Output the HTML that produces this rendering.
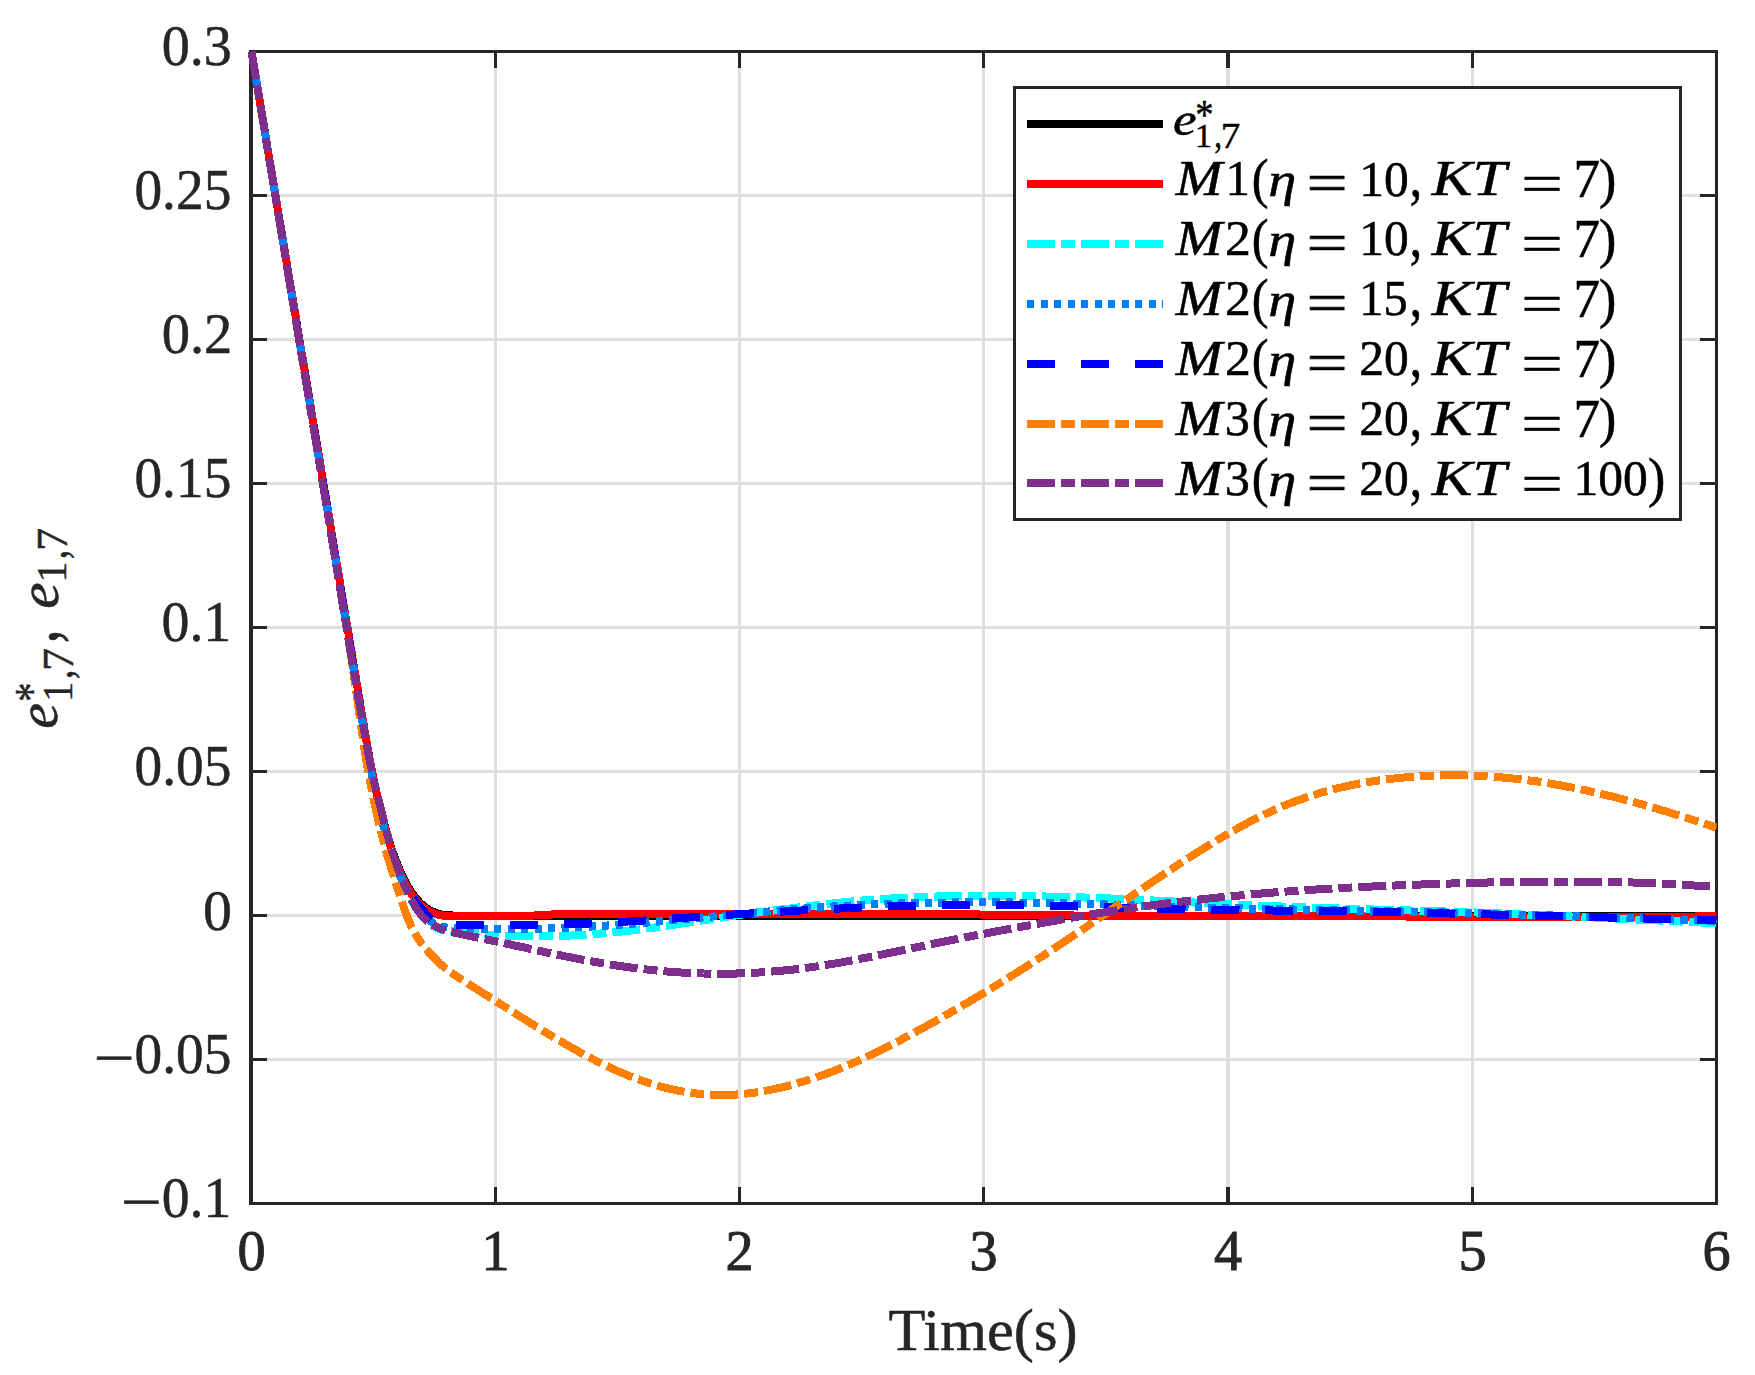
<!DOCTYPE html>
<html><head><meta charset="utf-8"><title>plot</title>
<style>
html,body{margin:0;padding:0;background:#fff;}
svg{display:block;}
text{font-family:"Liberation Serif",serif;fill:#262626;stroke:#262626;stroke-width:0.9;}
.it{font-style:italic;}
.lg text{fill:#000;stroke:#000;stroke-width:1.1;}
</style></head><body>
<svg width="1755" height="1375" viewBox="0 0 1755 1375">
<rect x="0" y="0" width="1755" height="1375" fill="#fff"/>
<path d="M494.0,51.5 h3 V1203.5 h-3 Z M738.0,51.5 h3 V1203.5 h-3 Z M982.0,51.5 h3 V1203.5 h-3 Z M1226.0,51.5 h4 V1203.5 h-4 Z M1471.0,51.5 h3 V1203.5 h-3 Z M251.5,194.0 H1716.5 v3 H251.5 Z M251.5,338.0 H1716.5 v3 H251.5 Z M251.5,482.0 H1716.5 v3 H251.5 Z M251.5,626.0 H1716.5 v3 H251.5 Z M251.5,770.0 H1716.5 v3 H251.5 Z M251.5,914.0 H1716.5 v3 H251.5 Z M251.5,1058.0 H1716.5 v3 H251.5 Z" fill="#dfdfdf"/>
<path d="M494.0,1203.5 h3 v-16.5 h-3 Z M494.0,51.5 h3 v16.5 h-3 Z M738.0,1203.5 h3 v-16.5 h-3 Z M738.0,51.5 h3 v16.5 h-3 Z M982.0,1203.5 h3 v-16.5 h-3 Z M982.0,51.5 h3 v16.5 h-3 Z M1226.0,1203.5 h4 v-16.5 h-4 Z M1226.0,51.5 h4 v16.5 h-4 Z M1471.0,1203.5 h3 v-16.5 h-3 Z M1471.0,51.5 h3 v16.5 h-3 Z M251.5,194.0 h15.5 v3 h-15.5 Z M1716.5,194.0 h-16.5 v3 h16.5 Z M251.5,338.0 h15.5 v3 h-15.5 Z M1716.5,338.0 h-16.5 v3 h16.5 Z M251.5,482.0 h15.5 v3 h-15.5 Z M1716.5,482.0 h-16.5 v3 h16.5 Z M251.5,626.0 h15.5 v3 h-15.5 Z M1716.5,626.0 h-16.5 v3 h16.5 Z M251.5,770.0 h15.5 v3 h-15.5 Z M1716.5,770.0 h-16.5 v3 h16.5 Z M251.5,914.0 h15.5 v3 h-15.5 Z M1716.5,914.0 h-16.5 v3 h16.5 Z M251.5,1058.0 h15.5 v3 h-15.5 Z M1716.5,1058.0 h-16.5 v3 h16.5 Z" fill="#262626"/>
<path d="M249,50.0 h4 V1205.0 h-4 Z M249,50.0 H1718.0 v3 H249 Z M249,1202.0 H1718.0 v3 H249 Z M1715.0,50.0 h3 V1205.0 h-3 Z" fill="#262626"/>
<clipPath id="c"><rect x="247.5" y="50.0" width="1469.0" height="1155.0"/></clipPath>
<g clip-path="url(#c)" fill="none" stroke-width="8" stroke-linejoin="round" shape-rendering="crispEdges">
<path d="M251.5,51.5 L254.9,71.7 L258.2,91.9 L261.6,112.2 L265.0,132.4 L268.3,152.6 L271.7,172.8 L275.1,193.0 L278.4,213.3 L281.8,233.5 L285.2,253.7 L288.5,273.9 L291.9,294.1 L295.3,314.4 L298.6,334.6 L302.0,354.8 L305.4,375.0 L308.8,395.2 L312.1,415.5 L315.5,435.7 L318.9,455.9 L322.2,476.1 L325.6,496.3 L329.0,516.6 L332.3,536.8 L335.7,557.0 L339.1,577.2 L342.4,597.4 L345.8,617.6 L349.2,637.9 L349.9,642.3 L350.6,646.7 L351.4,651.1 L352.1,655.5 L352.8,660.0 L353.6,664.4 L354.3,668.8 L355.1,673.2 L355.8,677.6 L356.5,682.1 L357.3,686.5 L358.0,690.9 L358.7,695.3 L359.5,699.7 L360.2,704.2 L360.9,708.6 L361.7,713.0 L362.4,717.4 L363.2,721.8 L363.9,726.3 L364.6,730.6 L365.4,735.0 L366.1,739.2 L366.8,743.4 L367.6,747.5 L368.3,751.5 L369.0,755.5 L369.8,759.4 L370.5,763.3 L371.3,767.1 L372.0,770.8 L372.7,774.4 L373.5,778.0 L374.2,781.6 L374.9,785.0 L375.7,788.5 L376.4,791.8 L377.1,795.1 L377.9,798.3 L378.6,801.5 L379.4,804.6 L380.1,807.7 L380.8,810.7 L381.6,813.6 L382.3,816.5 L383.0,819.4 L383.8,822.2 L384.5,824.9 L385.2,827.6 L386.0,830.2 L386.7,832.7 L387.4,835.3 L388.2,837.7 L388.9,840.1 L389.7,842.5 L390.4,844.8 L391.1,847.1 L391.9,849.3 L392.6,851.5 L393.3,853.6 L394.1,855.7 L394.8,857.7 L395.5,859.7 L396.3,861.6 L397.0,863.5 L397.8,865.3 L398.5,867.1 L399.2,868.9 L400.0,870.6 L400.7,872.3 L401.4,873.9 L402.2,875.5 L402.9,877.0 L403.6,878.5 L404.4,880.0 L405.1,881.4 L405.9,882.8 L406.6,884.2 L407.3,885.5 L408.1,886.7 L408.8,888.0 L409.5,889.2 L410.3,890.4 L411.0,891.5 L411.7,892.6 L412.5,893.6 L413.2,894.7 L414.0,895.7 L414.7,896.6 L415.4,897.6 L416.2,898.5 L416.9,899.3 L417.6,900.2 L418.4,901.0 L419.1,901.8 L419.8,902.5 L420.6,903.3 L421.3,904.0 L422.0,904.6 L422.8,905.3 L423.5,905.9 L424.3,906.5 L425.0,907.0 L425.7,907.6 L426.5,908.1 L427.2,908.6 L427.9,909.1 L428.7,909.5 L429.4,910.0 L430.1,910.4 L430.9,910.8 L431.6,911.1 L432.4,911.5 L433.1,911.8 L433.8,912.1 L434.6,912.4 L435.3,912.7 L436.0,912.9 L436.8,913.2 L437.5,913.4 L438.2,913.6 L439.0,913.8 L439.7,914.0 L440.5,914.2 L441.2,914.3 L441.9,914.5 L442.7,914.6 L443.4,914.7 L444.1,914.8 L444.9,914.9 L445.6,915.0 L446.3,915.1 L447.1,915.2 L447.8,915.2 L448.6,915.3 L449.3,915.3 L450.0,915.4 L450.8,915.4 L451.5,915.4 L452.2,915.4 L453.0,915.5 L453.7,915.5 L454.4,915.5 L455.2,915.5 L455.9,915.5 L456.6,915.5 L457.4,915.5 L458.1,915.5 L458.9,915.5 L459.6,915.5 L460.3,915.5 L461.1,915.5 L461.8,915.5 L462.5,915.5 L463.3,915.5 L464.0,915.5 L464.7,915.5 L465.5,915.5 L466.2,915.5 L467.0,915.5 L467.7,915.5 L468.4,915.5 L469.2,915.5 L469.9,915.5 L470.6,915.5 L471.4,915.5 L472.1,915.5 L472.8,915.5 L473.6,915.5 L474.3,915.5 L475.1,915.5 L475.8,915.5 L476.5,915.5 L477.3,915.5 L478.0,915.5 L478.7,915.5 L479.5,915.5 L480.2,915.5 L480.9,915.5 L481.7,915.5 L482.4,915.5 L483.2,915.5 L483.9,915.5 L484.6,915.5 L485.4,915.5 L486.1,915.5 L486.8,915.5 L487.6,915.5 L488.3,915.5 L489.0,915.5 L489.8,915.5 L490.5,915.5 L491.2,915.5 L492.0,915.5 L492.7,915.5 L493.5,915.5 L494.2,915.5 L494.9,915.5 L495.7,915.5 L497.4,915.5 L499.2,915.5 L500.9,915.5 L502.7,915.5 L504.4,915.5 L506.1,915.5 L507.9,915.5 L509.6,915.5 L511.4,915.5 L513.1,915.5 L514.9,915.5 L516.6,915.5 L518.4,915.5 L520.1,915.5 L521.9,915.5 L523.6,915.5 L525.4,915.5 L527.1,915.5 L528.9,915.5 L530.6,915.5 L532.3,915.5 L534.1,915.5 L535.8,915.5 L537.6,915.5 L539.3,915.5 L541.1,915.5 L542.8,915.5 L544.6,915.5 L546.3,915.5 L548.1,915.5 L549.8,915.5 L551.6,915.5 L553.3,915.5 L555.0,915.5 L556.8,915.5 L558.5,915.5 L560.3,915.5 L562.0,915.5 L563.8,915.5 L565.5,915.5 L567.3,915.5 L569.0,915.5 L570.8,915.5 L572.5,915.5 L574.3,915.5 L576.0,915.5 L577.8,915.5 L579.5,915.5 L581.2,915.5 L583.0,915.5 L584.7,915.5 L586.5,915.5 L588.2,915.5 L590.0,915.5 L591.7,915.5 L593.5,915.5 L595.2,915.5 L597.0,915.5 L598.7,915.5 L600.5,915.5 L602.2,915.5 L604.0,915.5 L605.7,915.5 L607.4,915.5 L609.2,915.5 L610.9,915.5 L612.7,915.5 L614.4,915.5 L616.2,915.5 L617.9,915.5 L619.7,915.5 L621.4,915.5 L623.2,915.5 L624.9,915.5 L626.7,915.5 L628.4,915.5 L630.2,915.5 L631.9,915.5 L633.6,915.5 L635.4,915.5 L637.1,915.5 L638.9,915.5 L640.6,915.5 L642.4,915.5 L644.1,915.5 L645.9,915.5 L647.6,915.5 L649.4,915.5 L651.1,915.5 L652.9,915.5 L654.6,915.5 L656.3,915.5 L658.1,915.5 L659.8,915.5 L661.6,915.5 L663.3,915.5 L665.1,915.5 L666.8,915.5 L668.6,915.5 L670.3,915.5 L672.1,915.5 L673.8,915.5 L675.6,915.5 L677.3,915.5 L679.1,915.5 L680.8,915.5 L682.5,915.5 L684.3,915.5 L686.0,915.5 L687.8,915.5 L689.5,915.5 L691.3,915.5 L693.0,915.5 L694.8,915.5 L696.5,915.5 L698.3,915.5 L700.0,915.5 L701.8,915.5 L703.5,915.5 L705.3,915.5 L707.0,915.5 L708.7,915.5 L710.5,915.5 L712.2,915.5 L714.0,915.5 L715.7,915.5 L717.5,915.5 L719.2,915.5 L721.0,915.5 L722.7,915.5 L724.5,915.5 L726.2,915.5 L728.0,915.5 L729.7,915.5 L731.4,915.5 L733.2,915.5 L734.9,915.5 L736.7,915.5 L738.4,915.5 L740.2,915.5 L741.9,915.5 L743.7,915.5 L745.4,915.5 L747.2,915.5 L748.9,915.5 L750.7,915.5 L752.4,915.5 L754.2,915.5 L755.9,915.5 L757.6,915.5 L759.4,915.5 L761.1,915.5 L762.9,915.5 L764.6,915.5 L766.4,915.5 L768.1,915.5 L769.9,915.5 L771.6,915.5 L773.4,915.5 L775.1,915.5 L776.9,915.5 L778.6,915.5 L780.4,915.5 L782.1,915.5 L783.8,915.5 L785.6,915.5 L787.3,915.5 L789.1,915.5 L790.8,915.5 L792.6,915.5 L794.3,915.5 L796.1,915.5 L797.8,915.5 L799.6,915.5 L801.3,915.5 L803.1,915.5 L804.8,915.5 L806.6,915.5 L808.3,915.5 L810.0,915.5 L811.8,915.5 L813.5,915.5 L815.3,915.5 L817.0,915.5 L818.8,915.5 L820.5,915.5 L822.3,915.5 L824.0,915.5 L825.8,915.5 L827.5,915.5 L829.3,915.5 L831.0,915.5 L832.7,915.5 L834.5,915.5 L836.2,915.5 L838.0,915.5 L839.7,915.5 L841.5,915.5 L843.2,915.5 L845.0,915.5 L846.7,915.5 L848.5,915.5 L850.2,915.5 L852.0,915.5 L853.7,915.5 L855.5,915.5 L857.2,915.5 L858.9,915.5 L860.7,915.5 L862.4,915.5 L864.2,915.5 L865.9,915.5 L867.7,915.5 L869.4,915.5 L871.2,915.5 L872.9,915.5 L874.7,915.5 L876.4,915.5 L878.2,915.5 L879.9,915.5 L881.7,915.5 L883.4,915.5 L885.1,915.5 L886.9,915.5 L888.6,915.5 L890.4,915.5 L892.1,915.5 L893.9,915.5 L895.6,915.5 L897.4,915.5 L899.1,915.5 L900.9,915.5 L902.6,915.5 L904.4,915.5 L906.1,915.5 L907.9,915.5 L909.6,915.5 L911.3,915.5 L913.1,915.5 L914.8,915.5 L916.6,915.5 L918.3,915.5 L920.1,915.5 L921.8,915.5 L923.6,915.5 L925.3,915.5 L927.1,915.5 L928.8,915.5 L930.6,915.5 L932.3,915.5 L934.0,915.5 L935.8,915.5 L937.5,915.5 L939.3,915.5 L941.0,915.5 L942.8,915.5 L944.5,915.5 L946.3,915.5 L948.0,915.5 L949.8,915.5 L951.5,915.5 L953.3,915.5 L955.0,915.5 L956.8,915.5 L958.5,915.5 L960.2,915.5 L962.0,915.5 L963.7,915.5 L965.5,915.5 L967.2,915.5 L969.0,915.5 L970.7,915.5 L972.5,915.5 L974.2,915.5 L976.0,915.5 L977.7,915.5 L979.5,915.5 L981.2,915.5 L983.0,915.5 L984.7,915.5 L986.4,915.5 L988.2,915.5 L989.9,915.5 L991.7,915.5 L993.4,915.5 L995.2,915.5 L996.9,915.5 L998.7,915.5 L1000.4,915.5 L1002.2,915.5 L1003.9,915.5 L1005.7,915.5 L1007.4,915.5 L1009.2,915.5 L1010.9,915.5 L1012.6,915.5 L1014.4,915.5 L1016.1,915.5 L1017.9,915.5 L1019.6,915.5 L1021.4,915.5 L1023.1,915.5 L1024.9,915.5 L1026.6,915.5 L1028.4,915.5 L1030.1,915.5 L1031.9,915.5 L1033.6,915.5 L1035.3,915.5 L1037.1,915.5 L1038.8,915.5 L1040.6,915.5 L1042.3,915.5 L1044.1,915.5 L1045.8,915.5 L1047.6,915.5 L1049.3,915.5 L1051.1,915.5 L1052.8,915.5 L1054.6,915.5 L1056.3,915.5 L1058.1,915.5 L1059.8,915.5 L1061.5,915.5 L1063.3,915.5 L1065.0,915.5 L1066.8,915.5 L1068.5,915.5 L1070.3,915.5 L1072.0,915.5 L1073.8,915.5 L1075.5,915.5 L1077.3,915.5 L1079.0,915.5 L1080.8,915.5 L1082.5,915.5 L1084.3,915.5 L1086.0,915.5 L1087.7,915.5 L1089.5,915.5 L1091.2,915.5 L1093.0,915.5 L1094.7,915.5 L1096.5,915.5 L1098.2,915.5 L1100.0,915.5 L1101.7,915.5 L1103.5,915.5 L1105.2,915.5 L1107.0,915.5 L1108.7,915.5 L1110.4,915.5 L1112.2,915.5 L1113.9,915.5 L1115.7,915.5 L1117.4,915.5 L1119.2,915.5 L1120.9,915.5 L1122.7,915.5 L1124.4,915.5 L1126.2,915.5 L1127.9,915.5 L1129.7,915.5 L1131.4,915.5 L1133.2,915.5 L1134.9,915.5 L1136.6,915.5 L1138.4,915.5 L1140.1,915.5 L1141.9,915.5 L1143.6,915.5 L1145.4,915.5 L1147.1,915.5 L1148.9,915.5 L1150.6,915.5 L1152.4,915.5 L1154.1,915.5 L1155.9,915.5 L1157.6,915.5 L1159.4,915.5 L1161.1,915.5 L1162.8,915.5 L1164.6,915.5 L1166.3,915.5 L1168.1,915.5 L1169.8,915.5 L1171.6,915.5 L1173.3,915.5 L1175.1,915.5 L1176.8,915.5 L1178.6,915.5 L1180.3,915.5 L1182.1,915.5 L1183.8,915.5 L1185.6,915.5 L1187.3,915.5 L1189.0,915.5 L1190.8,915.5 L1192.5,915.5 L1194.3,915.5 L1196.0,915.5 L1197.8,915.5 L1199.5,915.5 L1201.3,915.5 L1203.0,915.5 L1204.8,915.5 L1206.5,915.5 L1208.3,915.5 L1210.0,915.5 L1211.7,915.5 L1213.5,915.5 L1215.2,915.5 L1217.0,915.5 L1218.7,915.5 L1220.5,915.5 L1222.2,915.5 L1224.0,915.5 L1225.7,915.5 L1227.5,915.5 L1229.2,915.5 L1231.0,915.5 L1232.7,915.5 L1234.5,915.5 L1236.2,915.5 L1237.9,915.5 L1239.7,915.5 L1241.4,915.5 L1243.2,915.5 L1244.9,915.5 L1246.7,915.5 L1248.4,915.5 L1250.2,915.5 L1251.9,915.5 L1253.7,915.5 L1255.4,915.5 L1257.2,915.5 L1258.9,915.5 L1260.7,915.5 L1262.4,915.5 L1264.1,915.5 L1265.9,915.5 L1267.6,915.5 L1269.4,915.5 L1271.1,915.5 L1272.9,915.5 L1274.6,915.5 L1276.4,915.5 L1278.1,915.5 L1279.9,915.5 L1281.6,915.5 L1283.4,915.5 L1285.1,915.5 L1286.9,915.5 L1288.6,915.5 L1290.3,915.5 L1292.1,915.5 L1293.8,915.5 L1295.6,915.5 L1297.3,915.5 L1299.1,915.5 L1300.8,915.5 L1302.6,915.5 L1304.3,915.5 L1306.1,915.5 L1307.8,915.5 L1309.6,915.5 L1311.3,915.5 L1313.0,915.5 L1314.8,915.5 L1316.5,915.5 L1318.3,915.5 L1320.0,915.5 L1321.8,915.5 L1323.5,915.5 L1325.3,915.5 L1327.0,915.5 L1328.8,915.5 L1330.5,915.5 L1332.3,915.5 L1334.0,915.5 L1335.8,915.5 L1337.5,915.5 L1339.2,915.5 L1341.0,915.5 L1342.7,915.5 L1344.5,915.5 L1346.2,915.5 L1348.0,915.5 L1349.7,915.5 L1351.5,915.5 L1353.2,915.5 L1355.0,915.5 L1356.7,915.5 L1358.5,915.5 L1360.2,915.5 L1362.0,915.5 L1363.7,915.5 L1365.4,915.5 L1367.2,915.5 L1368.9,915.5 L1370.7,915.5 L1372.4,915.5 L1374.2,915.5 L1375.9,915.5 L1377.7,915.5 L1379.4,915.5 L1381.2,915.5 L1382.9,915.5 L1384.7,915.5 L1386.4,915.5 L1388.1,915.5 L1389.9,915.5 L1391.6,915.5 L1393.4,915.5 L1395.1,915.5 L1396.9,915.5 L1398.6,915.5 L1400.4,915.5 L1402.1,915.5 L1403.9,915.5 L1405.6,915.5 L1407.4,915.5 L1409.1,915.5 L1410.9,915.5 L1412.6,915.5 L1414.3,915.5 L1416.1,915.5 L1417.8,915.5 L1419.6,915.5 L1421.3,915.5 L1423.1,915.5 L1424.8,915.5 L1426.6,915.5 L1428.3,915.5 L1430.1,915.5 L1431.8,915.5 L1433.6,915.5 L1435.3,915.5 L1437.1,915.5 L1438.8,915.5 L1440.5,915.5 L1442.3,915.5 L1444.0,915.5 L1445.8,915.5 L1447.5,915.5 L1449.3,915.5 L1451.0,915.5 L1452.8,915.5 L1454.5,915.5 L1456.3,915.5 L1458.0,915.5 L1459.8,915.5 L1461.5,915.5 L1463.3,915.5 L1465.0,915.5 L1466.7,915.5 L1468.5,915.5 L1470.2,915.5 L1472.0,915.5 L1473.7,915.5 L1475.5,915.5 L1477.2,915.5 L1479.0,915.5 L1480.7,915.5 L1482.5,915.5 L1484.2,915.5 L1486.0,915.5 L1487.7,915.5 L1489.4,915.5 L1491.2,915.5 L1492.9,915.5 L1494.7,915.5 L1496.4,915.5 L1498.2,915.5 L1499.9,915.5 L1501.7,915.5 L1503.4,915.5 L1505.2,915.5 L1506.9,915.5 L1508.7,915.5 L1510.4,915.5 L1512.2,915.5 L1513.9,915.5 L1515.6,915.5 L1517.4,915.5 L1519.1,915.5 L1520.9,915.5 L1522.6,915.5 L1524.4,915.5 L1526.1,915.5 L1527.9,915.5 L1529.6,915.5 L1531.4,915.5 L1533.1,915.5 L1534.9,915.5 L1536.6,915.5 L1538.4,915.5 L1540.1,915.5 L1541.8,915.5 L1543.6,915.5 L1545.3,915.5 L1547.1,915.5 L1548.8,915.5 L1550.6,915.5 L1552.3,915.5 L1554.1,915.5 L1555.8,915.5 L1557.6,915.5 L1559.3,915.5 L1561.1,915.5 L1562.8,915.5 L1564.6,915.5 L1566.3,915.5 L1568.0,915.5 L1569.8,915.5 L1571.5,915.5 L1573.3,915.5 L1575.0,915.5 L1576.8,915.5 L1578.5,915.5 L1580.3,915.5 L1582.0,915.5 L1583.8,915.5 L1585.5,915.5 L1587.3,915.5 L1589.0,915.5 L1590.7,915.5 L1592.5,915.5 L1594.2,915.5 L1596.0,915.5 L1597.7,915.5 L1599.5,915.5 L1601.2,915.5 L1603.0,915.5 L1604.7,915.5 L1606.5,915.5 L1608.2,915.5 L1610.0,915.5 L1611.7,915.5 L1613.5,915.5 L1615.2,915.5 L1616.9,915.5 L1618.7,915.5 L1620.4,915.5 L1622.2,915.5 L1623.9,915.5 L1625.7,915.5 L1627.4,915.5 L1629.2,915.5 L1630.9,915.5 L1632.7,915.5 L1634.4,915.5 L1636.2,915.5 L1637.9,915.5 L1639.7,915.5 L1641.4,915.5 L1643.1,915.5 L1644.9,915.5 L1646.6,915.5 L1648.4,915.5 L1650.1,915.5 L1651.9,915.5 L1653.6,915.5 L1655.4,915.5 L1657.1,915.5 L1658.9,915.5 L1660.6,915.5 L1662.4,915.5 L1664.1,915.5 L1665.9,915.5 L1667.6,915.5 L1669.3,915.5 L1671.1,915.5 L1672.8,915.5 L1674.6,915.5 L1676.3,915.5 L1678.1,915.5 L1679.8,915.5 L1681.6,915.5 L1683.3,915.5 L1685.1,915.5 L1686.8,915.5 L1688.6,915.5 L1690.3,915.5 L1692.0,915.5 L1693.8,915.5 L1695.5,915.5 L1697.3,915.5 L1699.0,915.5 L1700.8,915.5 L1702.5,915.5 L1704.3,915.5 L1706.0,915.5 L1707.8,915.5 L1709.5,915.5 L1711.3,915.5 L1713.0,915.5 L1714.8,915.5 L1716.5,915.5" stroke="#000000"/>
<path d="M251.5,51.5 L254.9,71.7 L258.2,91.9 L261.6,112.2 L265.0,132.4 L268.3,152.6 L271.7,172.8 L275.1,193.0 L278.4,213.3 L281.8,233.5 L285.2,253.7 L288.5,273.9 L291.9,294.1 L295.3,314.4 L298.6,334.6 L302.0,354.8 L305.4,375.0 L308.8,395.2 L312.1,415.5 L315.5,435.7 L318.9,455.9 L322.2,476.1 L325.6,496.3 L329.0,516.6 L332.3,536.8 L335.7,557.0 L339.1,577.2 L342.4,597.4 L345.8,617.6 L349.2,637.9 L349.9,642.3 L350.6,646.7 L351.4,651.1 L352.1,655.5 L352.8,660.0 L353.6,664.4 L354.3,668.8 L355.1,673.2 L355.8,677.6 L356.5,682.1 L357.3,686.5 L358.0,690.9 L358.7,695.3 L359.5,699.7 L360.2,704.2 L360.9,708.6 L361.7,713.0 L362.4,717.4 L363.2,721.9 L363.9,726.3 L364.6,730.7 L365.4,735.0 L366.1,739.3 L366.8,743.5 L367.6,747.6 L368.3,751.7 L369.0,755.7 L369.8,759.6 L370.5,763.5 L371.3,767.3 L372.0,771.1 L372.7,774.8 L373.5,778.4 L374.2,782.0 L374.9,785.5 L375.7,788.9 L376.4,792.3 L377.1,795.7 L377.9,798.9 L378.6,802.2 L379.4,805.3 L380.1,808.4 L380.8,811.5 L381.6,814.5 L382.3,817.4 L383.0,820.3 L383.8,823.1 L384.5,825.9 L385.2,828.6 L386.0,831.3 L386.7,833.9 L387.4,836.5 L388.2,839.0 L388.9,841.4 L389.7,843.8 L390.4,846.2 L391.1,848.5 L391.9,850.7 L392.6,852.9 L393.3,855.1 L394.1,857.2 L394.8,859.2 L395.5,861.2 L396.3,863.2 L397.0,865.1 L397.8,867.0 L398.5,868.8 L399.2,870.6 L400.0,872.3 L400.7,874.0 L401.4,875.6 L402.2,877.2 L402.9,878.8 L403.6,880.3 L404.4,881.7 L405.1,883.1 L405.9,884.5 L406.6,885.9 L407.3,887.2 L408.1,888.5 L408.8,889.7 L409.5,890.9 L410.3,892.0 L411.0,893.2 L411.7,894.2 L412.5,895.3 L413.2,896.3 L414.0,897.3 L414.7,898.3 L415.4,899.2 L416.2,900.1 L416.9,900.9 L417.6,901.7 L418.4,902.5 L419.1,903.3 L419.8,904.0 L420.6,904.8 L421.3,905.4 L422.0,906.1 L422.8,906.7 L423.5,907.3 L424.3,907.9 L425.0,908.4 L425.7,909.0 L426.5,909.5 L427.2,909.9 L427.9,910.4 L428.7,910.8 L429.4,911.2 L430.1,911.6 L430.9,912.0 L431.6,912.4 L432.4,912.7 L433.1,913.0 L433.8,913.3 L434.6,913.6 L435.3,913.8 L436.0,914.1 L436.8,914.3 L437.5,914.5 L438.2,914.7 L439.0,914.9 L439.7,915.0 L440.5,915.2 L441.2,915.3 L441.9,915.4 L442.7,915.5 L443.4,915.7 L444.1,915.7 L444.9,915.8 L445.6,915.9 L446.3,916.0 L447.1,916.0 L447.8,916.1 L448.6,916.1 L449.3,916.1 L450.0,916.2 L450.8,916.2 L451.5,916.2 L452.2,916.2 L453.0,916.2 L453.7,916.2 L454.4,916.2 L455.2,916.2 L455.9,916.2 L456.6,916.2 L457.4,916.1 L458.1,916.1 L458.9,916.1 L459.6,916.1 L460.3,916.1 L461.1,916.1 L461.8,916.0 L462.5,916.0 L463.3,916.0 L464.0,916.0 L464.7,916.0 L465.5,915.9 L466.2,915.9 L467.0,915.9 L467.7,915.9 L468.4,915.9 L469.2,915.9 L469.9,915.8 L470.6,915.8 L471.4,915.8 L472.1,915.8 L472.8,915.8 L473.6,915.8 L474.3,915.8 L475.1,915.7 L475.8,915.7 L476.5,915.7 L477.3,915.7 L478.0,915.7 L478.7,915.7 L479.5,915.7 L480.2,915.6 L480.9,915.6 L481.7,915.6 L482.4,915.6 L483.2,915.6 L483.9,915.6 L484.6,915.6 L485.4,915.6 L486.1,915.6 L486.8,915.6 L487.6,915.5 L488.3,915.5 L489.0,915.5 L489.8,915.5 L490.5,915.5 L491.2,915.5 L492.0,915.5 L492.7,915.5 L493.5,915.5 L494.2,915.5 L494.9,915.5 L495.7,915.5 L497.4,915.5 L499.2,915.5 L500.9,915.5 L502.7,915.5 L504.4,915.5 L506.1,915.5 L507.9,915.5 L509.6,915.5 L511.4,915.5 L513.1,915.5 L514.9,915.5 L516.6,915.5 L518.4,915.5 L520.1,915.5 L521.9,915.5 L523.6,915.5 L525.4,915.5 L527.1,915.5 L528.9,915.5 L530.6,915.5 L532.3,915.5 L534.1,915.5 L535.8,915.4 L537.6,915.4 L539.3,915.3 L541.1,915.2 L542.8,915.1 L544.6,914.9 L546.3,914.8 L548.1,914.7 L549.8,914.6 L551.6,914.5 L553.3,914.4 L555.0,914.4 L556.8,914.3 L558.5,914.3 L560.3,914.3 L562.0,914.3 L563.8,914.3 L565.5,914.3 L567.3,914.3 L569.0,914.3 L570.8,914.3 L572.5,914.3 L574.3,914.3 L576.0,914.3 L577.8,914.3 L579.5,914.3 L581.2,914.3 L583.0,914.3 L584.7,914.2 L586.5,914.2 L588.2,914.2 L590.0,914.2 L591.7,914.2 L593.5,914.2 L595.2,914.2 L597.0,914.2 L598.7,914.2 L600.5,914.2 L602.2,914.2 L604.0,914.2 L605.7,914.2 L607.4,914.2 L609.2,914.2 L610.9,914.2 L612.7,914.2 L614.4,914.2 L616.2,914.2 L617.9,914.2 L619.7,914.2 L621.4,914.2 L623.2,914.2 L624.9,914.2 L626.7,914.1 L628.4,914.1 L630.2,914.1 L631.9,914.1 L633.6,914.1 L635.4,914.1 L637.1,914.1 L638.9,914.1 L640.6,914.1 L642.4,914.1 L644.1,914.1 L645.9,914.1 L647.6,914.1 L649.4,914.1 L651.1,914.1 L652.9,914.1 L654.6,914.1 L656.3,914.1 L658.1,914.1 L659.8,914.1 L661.6,914.1 L663.3,914.1 L665.1,914.1 L666.8,914.1 L668.6,914.1 L670.3,914.1 L672.1,914.1 L673.8,914.1 L675.6,914.1 L677.3,914.1 L679.1,914.1 L680.8,914.1 L682.5,914.1 L684.3,914.1 L686.0,914.1 L687.8,914.1 L689.5,914.1 L691.3,914.1 L693.0,914.1 L694.8,914.1 L696.5,914.1 L698.3,914.1 L700.0,914.1 L701.8,914.1 L703.5,914.1 L705.3,914.1 L707.0,914.1 L708.7,914.1 L710.5,914.1 L712.2,914.1 L714.0,914.1 L715.7,914.1 L717.5,914.1 L719.2,914.1 L721.0,914.1 L722.7,914.1 L724.5,914.1 L726.2,914.1 L728.0,914.1 L729.7,914.1 L731.4,914.1 L733.2,914.1 L734.9,914.1 L736.7,914.1 L738.4,914.1 L740.2,914.1 L741.9,914.1 L743.7,914.1 L745.4,914.1 L747.2,914.1 L748.9,914.1 L750.7,914.1 L752.4,914.1 L754.2,914.1 L755.9,914.1 L757.6,914.1 L759.4,914.1 L761.1,914.1 L762.9,914.1 L764.6,914.1 L766.4,914.1 L768.1,914.1 L769.9,914.1 L771.6,914.1 L773.4,914.1 L775.1,914.1 L776.9,914.1 L778.6,914.1 L780.4,914.1 L782.1,914.1 L783.8,914.1 L785.6,914.1 L787.3,914.1 L789.1,914.1 L790.8,914.1 L792.6,914.1 L794.3,914.1 L796.1,914.1 L797.8,914.1 L799.6,914.1 L801.3,914.1 L803.1,914.1 L804.8,914.1 L806.6,914.1 L808.3,914.1 L810.0,914.1 L811.8,914.1 L813.5,914.1 L815.3,914.1 L817.0,914.1 L818.8,914.1 L820.5,914.1 L822.3,914.1 L824.0,914.1 L825.8,914.1 L827.5,914.1 L829.3,914.1 L831.0,914.1 L832.7,914.1 L834.5,914.1 L836.2,914.1 L838.0,914.1 L839.7,914.1 L841.5,914.1 L843.2,914.1 L845.0,914.1 L846.7,914.1 L848.5,914.1 L850.2,914.1 L852.0,914.1 L853.7,914.1 L855.5,914.1 L857.2,914.1 L858.9,914.1 L860.7,914.2 L862.4,914.2 L864.2,914.2 L865.9,914.2 L867.7,914.2 L869.4,914.2 L871.2,914.2 L872.9,914.2 L874.7,914.2 L876.4,914.2 L878.2,914.2 L879.9,914.2 L881.7,914.2 L883.4,914.2 L885.1,914.2 L886.9,914.2 L888.6,914.2 L890.4,914.2 L892.1,914.2 L893.9,914.2 L895.6,914.2 L897.4,914.2 L899.1,914.2 L900.9,914.2 L902.6,914.2 L904.4,914.2 L906.1,914.2 L907.9,914.2 L909.6,914.2 L911.3,914.2 L913.1,914.2 L914.8,914.2 L916.6,914.3 L918.3,914.3 L920.1,914.3 L921.8,914.3 L923.6,914.3 L925.3,914.3 L927.1,914.3 L928.8,914.3 L930.6,914.3 L932.3,914.3 L934.0,914.3 L935.8,914.3 L937.5,914.3 L939.3,914.3 L941.0,914.3 L942.8,914.3 L944.5,914.3 L946.3,914.3 L948.0,914.3 L949.8,914.3 L951.5,914.3 L953.3,914.3 L955.0,914.3 L956.8,914.3 L958.5,914.3 L960.2,914.3 L962.0,914.4 L963.7,914.4 L965.5,914.4 L967.2,914.4 L969.0,914.4 L970.7,914.4 L972.5,914.4 L974.2,914.4 L976.0,914.4 L977.7,914.4 L979.5,914.5 L981.2,914.5 L983.0,914.5 L984.7,914.5 L986.4,914.5 L988.2,914.5 L989.9,914.5 L991.7,914.6 L993.4,914.6 L995.2,914.6 L996.9,914.6 L998.7,914.6 L1000.4,914.6 L1002.2,914.7 L1003.9,914.7 L1005.7,914.7 L1007.4,914.7 L1009.2,914.7 L1010.9,914.8 L1012.6,914.8 L1014.4,914.8 L1016.1,914.8 L1017.9,914.9 L1019.6,914.9 L1021.4,914.9 L1023.1,914.9 L1024.9,914.9 L1026.6,915.0 L1028.4,915.0 L1030.1,915.0 L1031.9,915.0 L1033.6,915.0 L1035.3,915.1 L1037.1,915.1 L1038.8,915.1 L1040.6,915.1 L1042.3,915.1 L1044.1,915.2 L1045.8,915.2 L1047.6,915.2 L1049.3,915.2 L1051.1,915.2 L1052.8,915.3 L1054.6,915.3 L1056.3,915.3 L1058.1,915.3 L1059.8,915.3 L1061.5,915.4 L1063.3,915.4 L1065.0,915.4 L1066.8,915.4 L1068.5,915.4 L1070.3,915.4 L1072.0,915.4 L1073.8,915.5 L1075.5,915.5 L1077.3,915.5 L1079.0,915.5 L1080.8,915.5 L1082.5,915.5 L1084.3,915.5 L1086.0,915.5 L1087.7,915.5 L1089.5,915.5 L1091.2,915.5 L1093.0,915.6 L1094.7,915.6 L1096.5,915.6 L1098.2,915.6 L1100.0,915.6 L1101.7,915.6 L1103.5,915.6 L1105.2,915.6 L1107.0,915.6 L1108.7,915.6 L1110.4,915.6 L1112.2,915.6 L1113.9,915.7 L1115.7,915.7 L1117.4,915.7 L1119.2,915.7 L1120.9,915.7 L1122.7,915.7 L1124.4,915.7 L1126.2,915.7 L1127.9,915.7 L1129.7,915.7 L1131.4,915.7 L1133.2,915.7 L1134.9,915.7 L1136.6,915.8 L1138.4,915.8 L1140.1,915.8 L1141.9,915.8 L1143.6,915.8 L1145.4,915.8 L1147.1,915.8 L1148.9,915.8 L1150.6,915.8 L1152.4,915.8 L1154.1,915.8 L1155.9,915.8 L1157.6,915.8 L1159.4,915.8 L1161.1,915.9 L1162.8,915.9 L1164.6,915.9 L1166.3,915.9 L1168.1,915.9 L1169.8,915.9 L1171.6,915.9 L1173.3,915.9 L1175.1,915.9 L1176.8,915.9 L1178.6,915.9 L1180.3,915.9 L1182.1,915.9 L1183.8,915.9 L1185.6,915.9 L1187.3,916.0 L1189.0,916.0 L1190.8,916.0 L1192.5,916.0 L1194.3,916.0 L1196.0,916.0 L1197.8,916.0 L1199.5,916.0 L1201.3,916.0 L1203.0,916.0 L1204.8,916.0 L1206.5,916.0 L1208.3,916.0 L1210.0,916.0 L1211.7,916.0 L1213.5,916.0 L1215.2,916.0 L1217.0,916.1 L1218.7,916.1 L1220.5,916.1 L1222.2,916.1 L1224.0,916.1 L1225.7,916.1 L1227.5,916.1 L1229.2,916.1 L1231.0,916.1 L1232.7,916.1 L1234.5,916.1 L1236.2,916.1 L1237.9,916.1 L1239.7,916.1 L1241.4,916.1 L1243.2,916.1 L1244.9,916.1 L1246.7,916.1 L1248.4,916.1 L1250.2,916.1 L1251.9,916.2 L1253.7,916.2 L1255.4,916.2 L1257.2,916.2 L1258.9,916.2 L1260.7,916.2 L1262.4,916.2 L1264.1,916.2 L1265.9,916.2 L1267.6,916.2 L1269.4,916.2 L1271.1,916.2 L1272.9,916.2 L1274.6,916.2 L1276.4,916.2 L1278.1,916.2 L1279.9,916.2 L1281.6,916.2 L1283.4,916.2 L1285.1,916.2 L1286.9,916.2 L1288.6,916.2 L1290.3,916.2 L1292.1,916.3 L1293.8,916.3 L1295.6,916.3 L1297.3,916.3 L1299.1,916.3 L1300.8,916.3 L1302.6,916.3 L1304.3,916.3 L1306.1,916.3 L1307.8,916.3 L1309.6,916.3 L1311.3,916.3 L1313.0,916.3 L1314.8,916.3 L1316.5,916.3 L1318.3,916.3 L1320.0,916.3 L1321.8,916.3 L1323.5,916.3 L1325.3,916.3 L1327.0,916.3 L1328.8,916.3 L1330.5,916.3 L1332.3,916.3 L1334.0,916.3 L1335.8,916.3 L1337.5,916.3 L1339.2,916.3 L1341.0,916.3 L1342.7,916.4 L1344.5,916.4 L1346.2,916.4 L1348.0,916.4 L1349.7,916.4 L1351.5,916.4 L1353.2,916.4 L1355.0,916.4 L1356.7,916.4 L1358.5,916.4 L1360.2,916.4 L1362.0,916.4 L1363.7,916.4 L1365.4,916.4 L1367.2,916.4 L1368.9,916.4 L1370.7,916.4 L1372.4,916.4 L1374.2,916.4 L1375.9,916.4 L1377.7,916.4 L1379.4,916.4 L1381.2,916.4 L1382.9,916.4 L1384.7,916.4 L1386.4,916.4 L1388.1,916.4 L1389.9,916.4 L1391.6,916.4 L1393.4,916.4 L1395.1,916.4 L1396.9,916.4 L1398.6,916.4 L1400.4,916.4 L1402.1,916.4 L1403.9,916.4 L1405.6,916.5 L1407.4,916.5 L1409.1,916.5 L1410.9,916.5 L1412.6,916.5 L1414.3,916.5 L1416.1,916.5 L1417.8,916.5 L1419.6,916.5 L1421.3,916.5 L1423.1,916.5 L1424.8,916.5 L1426.6,916.5 L1428.3,916.5 L1430.1,916.5 L1431.8,916.5 L1433.6,916.5 L1435.3,916.5 L1437.1,916.5 L1438.8,916.5 L1440.5,916.5 L1442.3,916.5 L1444.0,916.5 L1445.8,916.5 L1447.5,916.5 L1449.3,916.5 L1451.0,916.5 L1452.8,916.5 L1454.5,916.5 L1456.3,916.5 L1458.0,916.5 L1459.8,916.5 L1461.5,916.5 L1463.3,916.5 L1465.0,916.5 L1466.7,916.5 L1468.5,916.5 L1470.2,916.5 L1472.0,916.5 L1473.7,916.5 L1475.5,916.6 L1477.2,916.6 L1479.0,916.6 L1480.7,916.6 L1482.5,916.6 L1484.2,916.6 L1486.0,916.6 L1487.7,916.6 L1489.4,916.6 L1491.2,916.6 L1492.9,916.6 L1494.7,916.6 L1496.4,916.6 L1498.2,916.6 L1499.9,916.6 L1501.7,916.6 L1503.4,916.6 L1505.2,916.6 L1506.9,916.6 L1508.7,916.6 L1510.4,916.6 L1512.2,916.6 L1513.9,916.6 L1515.6,916.6 L1517.4,916.6 L1519.1,916.6 L1520.9,916.6 L1522.6,916.6 L1524.4,916.6 L1526.1,916.6 L1527.9,916.6 L1529.6,916.6 L1531.4,916.6 L1533.1,916.6 L1534.9,916.6 L1536.6,916.6 L1538.4,916.6 L1540.1,916.6 L1541.8,916.6 L1543.6,916.6 L1545.3,916.6 L1547.1,916.6 L1548.8,916.6 L1550.6,916.6 L1552.3,916.6 L1554.1,916.6 L1555.8,916.6 L1557.6,916.6 L1559.3,916.6 L1561.1,916.6 L1562.8,916.6 L1564.6,916.6 L1566.3,916.6 L1568.0,916.6 L1569.8,916.6 L1571.5,916.6 L1573.3,916.6 L1575.0,916.6 L1576.8,916.6 L1578.5,916.6 L1580.3,916.6 L1582.0,916.6 L1583.8,916.6 L1585.5,916.6 L1587.3,916.6 L1589.0,916.6 L1590.7,916.6 L1592.5,916.6 L1594.2,916.6 L1596.0,916.6 L1597.7,916.6 L1599.5,916.6 L1601.2,916.7 L1603.0,916.7 L1604.7,916.7 L1606.5,916.7 L1608.2,916.7 L1610.0,916.7 L1611.7,916.7 L1613.5,916.7 L1615.2,916.7 L1616.9,916.7 L1618.7,916.7 L1620.4,916.7 L1622.2,916.7 L1623.9,916.7 L1625.7,916.6 L1627.4,916.6 L1629.2,916.6 L1630.9,916.6 L1632.7,916.6 L1634.4,916.6 L1636.2,916.6 L1637.9,916.6 L1639.7,916.6 L1641.4,916.6 L1643.1,916.6 L1644.9,916.6 L1646.6,916.6 L1648.4,916.6 L1650.1,916.6 L1651.9,916.6 L1653.6,916.6 L1655.4,916.6 L1657.1,916.6 L1658.9,916.6 L1660.6,916.6 L1662.4,916.6 L1664.1,916.6 L1665.9,916.6 L1667.6,916.6 L1669.3,916.6 L1671.1,916.5 L1672.8,916.5 L1674.6,916.5 L1676.3,916.5 L1678.1,916.5 L1679.8,916.5 L1681.6,916.5 L1683.3,916.5 L1685.1,916.5 L1686.8,916.5 L1688.6,916.5 L1690.3,916.5 L1692.0,916.5 L1693.8,916.5 L1695.5,916.5 L1697.3,916.4 L1699.0,916.4 L1700.8,916.4 L1702.5,916.4 L1704.3,916.4 L1706.0,916.4 L1707.8,916.4 L1709.5,916.4 L1711.3,916.4 L1713.0,916.4 L1714.8,916.4 L1716.5,916.4" stroke="#ff0000"/>
<path d="M251.5,51.5 L254.9,71.8 L258.2,92.2 L261.6,112.5 L265.0,132.9 L268.3,153.3 L271.7,173.6 L275.1,194.0 L278.4,214.4 L281.8,234.8 L285.2,255.2 L288.5,275.6 L291.9,296.0 L295.3,316.4 L298.6,336.8 L302.0,357.2 L305.4,377.6 L308.8,398.1 L312.1,418.5 L315.5,438.9 L318.9,459.4 L322.2,479.9 L325.6,500.3 L329.0,520.8 L332.3,541.3 L335.7,561.8 L339.1,582.2 L342.4,602.7 L345.8,623.2 L349.2,643.6 L349.9,648.1 L350.6,652.6 L351.4,657.1 L352.1,661.5 L352.8,666.0 L353.6,670.5 L354.3,675.0 L355.1,679.5 L355.8,684.0 L356.5,688.5 L357.3,692.9 L358.0,697.4 L358.7,701.9 L359.5,706.4 L360.2,710.9 L360.9,715.4 L361.7,719.9 L362.4,724.4 L363.2,728.8 L363.9,733.3 L364.6,737.8 L365.4,742.1 L366.1,746.4 L366.8,750.6 L367.6,754.8 L368.3,758.9 L369.0,762.9 L369.8,766.8 L370.5,770.7 L371.3,774.5 L372.0,778.2 L372.7,781.9 L373.5,785.5 L374.2,789.1 L374.9,792.5 L375.7,795.9 L376.4,799.3 L377.1,802.6 L377.9,805.8 L378.6,809.0 L379.4,812.1 L380.1,815.2 L380.8,818.2 L381.6,821.1 L382.3,824.0 L383.0,826.9 L383.8,829.6 L384.5,832.4 L385.2,835.0 L386.0,837.7 L386.7,840.2 L387.4,842.8 L388.2,845.2 L388.9,847.6 L389.7,850.0 L390.4,852.3 L391.1,854.6 L391.9,856.8 L392.6,859.0 L393.3,861.1 L394.1,863.1 L394.8,865.2 L395.5,867.2 L396.3,869.1 L397.0,871.0 L397.8,872.8 L398.5,874.6 L399.2,876.4 L400.0,878.1 L400.7,879.8 L401.4,881.4 L402.2,883.0 L402.9,884.6 L403.6,886.1 L404.4,887.6 L405.1,889.1 L405.9,890.5 L406.6,891.9 L407.3,893.3 L408.1,894.6 L408.8,895.9 L409.5,897.1 L410.3,898.4 L411.0,899.5 L411.7,900.7 L412.5,901.8 L413.2,902.9 L414.0,904.0 L414.7,905.0 L415.4,906.0 L416.2,907.0 L416.9,907.9 L417.6,908.8 L418.4,909.7 L419.1,910.7 L419.8,911.6 L420.6,912.5 L421.3,913.4 L422.0,914.3 L422.8,915.2 L423.5,916.1 L424.3,917.0 L425.0,917.8 L425.7,918.7 L426.5,919.5 L427.2,920.3 L427.9,921.1 L428.7,921.9 L429.4,922.6 L430.1,923.3 L430.9,924.0 L431.6,924.7 L432.4,925.3 L433.1,925.8 L433.8,926.4 L434.6,926.9 L435.3,927.3 L436.0,927.7 L436.8,928.1 L437.5,928.4 L438.2,928.7 L439.0,928.9 L439.7,929.2 L440.5,929.4 L441.2,929.6 L441.9,929.8 L442.7,930.0 L443.4,930.1 L444.1,930.3 L444.9,930.4 L445.6,930.5 L446.3,930.6 L447.1,930.7 L447.8,930.8 L448.6,930.9 L449.3,931.0 L450.0,931.1 L450.8,931.1 L451.5,931.2 L452.2,931.2 L453.0,931.3 L453.7,931.3 L454.4,931.4 L455.2,931.4 L455.9,931.4 L456.6,931.5 L457.4,931.5 L458.1,931.5 L458.9,931.6 L459.6,931.6 L460.3,931.7 L461.1,931.7 L461.8,931.7 L462.5,931.8 L463.3,931.8 L464.0,931.9 L464.7,932.0 L465.5,932.0 L466.2,932.1 L467.0,932.1 L467.7,932.2 L468.4,932.3 L469.2,932.4 L469.9,932.4 L470.6,932.5 L471.4,932.6 L472.1,932.7 L472.8,932.8 L473.6,932.8 L474.3,932.9 L475.1,933.0 L475.8,933.1 L476.5,933.2 L477.3,933.3 L478.0,933.4 L478.7,933.5 L479.5,933.5 L480.2,933.6 L480.9,933.7 L481.7,933.8 L482.4,933.9 L483.2,934.0 L483.9,934.1 L484.6,934.2 L485.4,934.3 L486.1,934.3 L486.8,934.4 L487.6,934.5 L488.3,934.6 L489.0,934.7 L489.8,934.7 L490.5,934.8 L491.2,934.9 L492.0,935.0 L492.7,935.0 L493.5,935.1 L494.2,935.1 L494.9,935.2 L495.7,935.3 L497.4,935.4 L499.2,935.5 L500.9,935.5 L502.7,935.6 L504.4,935.7 L506.1,935.7 L507.9,935.8 L509.6,935.8 L511.4,935.9 L513.1,935.9 L514.9,936.0 L516.6,936.0 L518.4,936.1 L520.1,936.1 L521.9,936.1 L523.6,936.2 L525.4,936.2 L527.1,936.2 L528.9,936.2 L530.6,936.2 L532.3,936.2 L534.1,936.2 L535.8,936.2 L537.6,936.2 L539.3,936.2 L541.1,936.2 L542.8,936.2 L544.6,936.2 L546.3,936.2 L548.1,936.2 L549.8,936.1 L551.6,936.1 L553.3,936.1 L555.0,936.0 L556.8,936.0 L558.5,935.9 L560.3,935.9 L562.0,935.8 L563.8,935.8 L565.5,935.7 L567.3,935.6 L569.0,935.6 L570.8,935.5 L572.5,935.4 L574.3,935.3 L576.0,935.2 L577.8,935.1 L579.5,935.0 L581.2,934.9 L583.0,934.8 L584.7,934.7 L586.5,934.6 L588.2,934.5 L590.0,934.3 L591.7,934.2 L593.5,934.1 L595.2,934.0 L597.0,933.8 L598.7,933.7 L600.5,933.5 L602.2,933.4 L604.0,933.2 L605.7,933.1 L607.4,932.9 L609.2,932.8 L610.9,932.6 L612.7,932.4 L614.4,932.3 L616.2,932.1 L617.9,931.9 L619.7,931.7 L621.4,931.5 L623.2,931.3 L624.9,931.2 L626.7,931.0 L628.4,930.8 L630.2,930.6 L631.9,930.4 L633.6,930.2 L635.4,929.9 L637.1,929.7 L638.9,929.5 L640.6,929.3 L642.4,929.1 L644.1,928.9 L645.9,928.6 L647.6,928.4 L649.4,928.2 L651.1,928.0 L652.9,927.7 L654.6,927.5 L656.3,927.2 L658.1,927.0 L659.8,926.8 L661.6,926.5 L663.3,926.3 L665.1,926.0 L666.8,925.8 L668.6,925.5 L670.3,925.3 L672.1,925.0 L673.8,924.7 L675.6,924.5 L677.3,924.2 L679.1,924.0 L680.8,923.7 L682.5,923.4 L684.3,923.2 L686.0,922.9 L687.8,922.7 L689.5,922.4 L691.3,922.1 L693.0,921.9 L694.8,921.6 L696.5,921.3 L698.3,921.1 L700.0,920.8 L701.8,920.5 L703.5,920.3 L705.3,920.0 L707.0,919.7 L708.7,919.5 L710.5,919.2 L712.2,919.0 L714.0,918.7 L715.7,918.4 L717.5,918.2 L719.2,917.9 L721.0,917.7 L722.7,917.4 L724.5,917.1 L726.2,916.9 L728.0,916.6 L729.7,916.4 L731.4,916.1 L733.2,915.9 L734.9,915.6 L736.7,915.4 L738.4,915.1 L740.2,914.9 L741.9,914.7 L743.7,914.4 L745.4,914.2 L747.2,913.9 L748.9,913.7 L750.7,913.5 L752.4,913.2 L754.2,913.0 L755.9,912.8 L757.6,912.5 L759.4,912.3 L761.1,912.1 L762.9,911.9 L764.6,911.6 L766.4,911.4 L768.1,911.2 L769.9,911.0 L771.6,910.7 L773.4,910.5 L775.1,910.3 L776.9,910.1 L778.6,909.9 L780.4,909.7 L782.1,909.4 L783.8,909.2 L785.6,909.0 L787.3,908.8 L789.1,908.6 L790.8,908.4 L792.6,908.2 L794.3,907.9 L796.1,907.7 L797.8,907.5 L799.6,907.3 L801.3,907.1 L803.1,906.9 L804.8,906.7 L806.6,906.5 L808.3,906.3 L810.0,906.0 L811.8,905.8 L813.5,905.6 L815.3,905.4 L817.0,905.2 L818.8,905.0 L820.5,904.8 L822.3,904.6 L824.0,904.4 L825.8,904.2 L827.5,904.0 L829.3,903.8 L831.0,903.6 L832.7,903.4 L834.5,903.2 L836.2,903.0 L838.0,902.8 L839.7,902.6 L841.5,902.5 L843.2,902.3 L845.0,902.1 L846.7,901.9 L848.5,901.8 L850.2,901.6 L852.0,901.4 L853.7,901.3 L855.5,901.1 L857.2,900.9 L858.9,900.8 L860.7,900.6 L862.4,900.5 L864.2,900.3 L865.9,900.2 L867.7,900.0 L869.4,899.9 L871.2,899.8 L872.9,899.6 L874.7,899.5 L876.4,899.4 L878.2,899.3 L879.9,899.1 L881.7,899.0 L883.4,898.9 L885.1,898.8 L886.9,898.7 L888.6,898.6 L890.4,898.5 L892.1,898.4 L893.9,898.3 L895.6,898.2 L897.4,898.1 L899.1,898.0 L900.9,897.9 L902.6,897.8 L904.4,897.7 L906.1,897.6 L907.9,897.5 L909.6,897.4 L911.3,897.4 L913.1,897.3 L914.8,897.2 L916.6,897.1 L918.3,897.1 L920.1,897.0 L921.8,896.9 L923.6,896.9 L925.3,896.8 L927.1,896.8 L928.8,896.7 L930.6,896.7 L932.3,896.6 L934.0,896.6 L935.8,896.5 L937.5,896.5 L939.3,896.4 L941.0,896.4 L942.8,896.3 L944.5,896.3 L946.3,896.3 L948.0,896.2 L949.8,896.2 L951.5,896.1 L953.3,896.1 L955.0,896.1 L956.8,896.1 L958.5,896.0 L960.2,896.0 L962.0,896.0 L963.7,896.0 L965.5,895.9 L967.2,895.9 L969.0,895.9 L970.7,895.9 L972.5,895.9 L974.2,895.9 L976.0,895.9 L977.7,895.9 L979.5,895.8 L981.2,895.8 L983.0,895.8 L984.7,895.8 L986.4,895.8 L988.2,895.8 L989.9,895.8 L991.7,895.8 L993.4,895.8 L995.2,895.8 L996.9,895.9 L998.7,895.9 L1000.4,895.9 L1002.2,895.9 L1003.9,895.9 L1005.7,895.9 L1007.4,895.9 L1009.2,895.9 L1010.9,895.9 L1012.6,896.0 L1014.4,896.0 L1016.1,896.0 L1017.9,896.0 L1019.6,896.0 L1021.4,896.1 L1023.1,896.1 L1024.9,896.1 L1026.6,896.1 L1028.4,896.2 L1030.1,896.2 L1031.9,896.2 L1033.6,896.2 L1035.3,896.3 L1037.1,896.3 L1038.8,896.3 L1040.6,896.4 L1042.3,896.4 L1044.1,896.4 L1045.8,896.5 L1047.6,896.5 L1049.3,896.6 L1051.1,896.6 L1052.8,896.6 L1054.6,896.7 L1056.3,896.7 L1058.1,896.8 L1059.8,896.8 L1061.5,896.8 L1063.3,896.9 L1065.0,896.9 L1066.8,897.0 L1068.5,897.0 L1070.3,897.1 L1072.0,897.1 L1073.8,897.2 L1075.5,897.2 L1077.3,897.3 L1079.0,897.3 L1080.8,897.4 L1082.5,897.4 L1084.3,897.5 L1086.0,897.6 L1087.7,897.6 L1089.5,897.7 L1091.2,897.7 L1093.0,897.8 L1094.7,897.9 L1096.5,897.9 L1098.2,898.0 L1100.0,898.1 L1101.7,898.1 L1103.5,898.2 L1105.2,898.3 L1107.0,898.3 L1108.7,898.4 L1110.4,898.5 L1112.2,898.5 L1113.9,898.6 L1115.7,898.7 L1117.4,898.8 L1119.2,898.8 L1120.9,898.9 L1122.7,899.0 L1124.4,899.1 L1126.2,899.2 L1127.9,899.2 L1129.7,899.3 L1131.4,899.4 L1133.2,899.5 L1134.9,899.6 L1136.6,899.6 L1138.4,899.7 L1140.1,899.8 L1141.9,899.9 L1143.6,900.0 L1145.4,900.1 L1147.1,900.1 L1148.9,900.2 L1150.6,900.3 L1152.4,900.4 L1154.1,900.5 L1155.9,900.6 L1157.6,900.7 L1159.4,900.8 L1161.1,900.8 L1162.8,900.9 L1164.6,901.0 L1166.3,901.1 L1168.1,901.2 L1169.8,901.3 L1171.6,901.4 L1173.3,901.5 L1175.1,901.5 L1176.8,901.6 L1178.6,901.7 L1180.3,901.8 L1182.1,901.9 L1183.8,902.0 L1185.6,902.1 L1187.3,902.2 L1189.0,902.2 L1190.8,902.3 L1192.5,902.4 L1194.3,902.5 L1196.0,902.6 L1197.8,902.7 L1199.5,902.8 L1201.3,902.8 L1203.0,902.9 L1204.8,903.0 L1206.5,903.1 L1208.3,903.2 L1210.0,903.3 L1211.7,903.4 L1213.5,903.4 L1215.2,903.5 L1217.0,903.6 L1218.7,903.7 L1220.5,903.8 L1222.2,903.9 L1224.0,903.9 L1225.7,904.0 L1227.5,904.1 L1229.2,904.2 L1231.0,904.3 L1232.7,904.4 L1234.5,904.4 L1236.2,904.5 L1237.9,904.6 L1239.7,904.7 L1241.4,904.8 L1243.2,904.8 L1244.9,904.9 L1246.7,905.0 L1248.4,905.1 L1250.2,905.1 L1251.9,905.2 L1253.7,905.3 L1255.4,905.4 L1257.2,905.5 L1258.9,905.5 L1260.7,905.6 L1262.4,905.7 L1264.1,905.7 L1265.9,905.8 L1267.6,905.9 L1269.4,906.0 L1271.1,906.0 L1272.9,906.1 L1274.6,906.2 L1276.4,906.3 L1278.1,906.3 L1279.9,906.4 L1281.6,906.5 L1283.4,906.5 L1285.1,906.6 L1286.9,906.7 L1288.6,906.7 L1290.3,906.8 L1292.1,906.9 L1293.8,906.9 L1295.6,907.0 L1297.3,907.1 L1299.1,907.1 L1300.8,907.2 L1302.6,907.3 L1304.3,907.3 L1306.1,907.4 L1307.8,907.5 L1309.6,907.5 L1311.3,907.6 L1313.0,907.6 L1314.8,907.7 L1316.5,907.8 L1318.3,907.8 L1320.0,907.9 L1321.8,907.9 L1323.5,908.0 L1325.3,908.1 L1327.0,908.1 L1328.8,908.2 L1330.5,908.2 L1332.3,908.3 L1334.0,908.3 L1335.8,908.4 L1337.5,908.4 L1339.2,908.5 L1341.0,908.5 L1342.7,908.6 L1344.5,908.7 L1346.2,908.7 L1348.0,908.8 L1349.7,908.8 L1351.5,908.9 L1353.2,908.9 L1355.0,909.0 L1356.7,909.0 L1358.5,909.1 L1360.2,909.1 L1362.0,909.2 L1363.7,909.2 L1365.4,909.2 L1367.2,909.3 L1368.9,909.3 L1370.7,909.4 L1372.4,909.4 L1374.2,909.5 L1375.9,909.5 L1377.7,909.6 L1379.4,909.6 L1381.2,909.7 L1382.9,909.7 L1384.7,909.8 L1386.4,909.8 L1388.1,909.9 L1389.9,909.9 L1391.6,910.0 L1393.4,910.0 L1395.1,910.0 L1396.9,910.1 L1398.6,910.1 L1400.4,910.2 L1402.1,910.2 L1403.9,910.3 L1405.6,910.3 L1407.4,910.4 L1409.1,910.4 L1410.9,910.5 L1412.6,910.5 L1414.3,910.6 L1416.1,910.6 L1417.8,910.7 L1419.6,910.7 L1421.3,910.8 L1423.1,910.8 L1424.8,910.9 L1426.6,910.9 L1428.3,911.0 L1430.1,911.0 L1431.8,911.1 L1433.6,911.1 L1435.3,911.2 L1437.1,911.2 L1438.8,911.3 L1440.5,911.3 L1442.3,911.4 L1444.0,911.4 L1445.8,911.5 L1447.5,911.5 L1449.3,911.6 L1451.0,911.7 L1452.8,911.7 L1454.5,911.8 L1456.3,911.8 L1458.0,911.9 L1459.8,911.9 L1461.5,912.0 L1463.3,912.1 L1465.0,912.1 L1466.7,912.2 L1468.5,912.2 L1470.2,912.3 L1472.0,912.4 L1473.7,912.4 L1475.5,912.5 L1477.2,912.6 L1479.0,912.6 L1480.7,912.7 L1482.5,912.8 L1484.2,912.8 L1486.0,912.9 L1487.7,912.9 L1489.4,913.0 L1491.2,913.1 L1492.9,913.2 L1494.7,913.2 L1496.4,913.3 L1498.2,913.4 L1499.9,913.4 L1501.7,913.5 L1503.4,913.6 L1505.2,913.6 L1506.9,913.7 L1508.7,913.8 L1510.4,913.8 L1512.2,913.9 L1513.9,914.0 L1515.6,914.1 L1517.4,914.1 L1519.1,914.2 L1520.9,914.3 L1522.6,914.4 L1524.4,914.4 L1526.1,914.5 L1527.9,914.6 L1529.6,914.6 L1531.4,914.7 L1533.1,914.8 L1534.9,914.9 L1536.6,914.9 L1538.4,915.0 L1540.1,915.1 L1541.8,915.2 L1543.6,915.3 L1545.3,915.3 L1547.1,915.4 L1548.8,915.5 L1550.6,915.6 L1552.3,915.6 L1554.1,915.7 L1555.8,915.8 L1557.6,915.9 L1559.3,915.9 L1561.1,916.0 L1562.8,916.1 L1564.6,916.2 L1566.3,916.3 L1568.0,916.3 L1569.8,916.4 L1571.5,916.5 L1573.3,916.6 L1575.0,916.7 L1576.8,916.7 L1578.5,916.8 L1580.3,916.9 L1582.0,917.0 L1583.8,917.1 L1585.5,917.1 L1587.3,917.2 L1589.0,917.3 L1590.7,917.4 L1592.5,917.4 L1594.2,917.5 L1596.0,917.6 L1597.7,917.7 L1599.5,917.8 L1601.2,917.8 L1603.0,917.9 L1604.7,918.0 L1606.5,918.1 L1608.2,918.2 L1610.0,918.2 L1611.7,918.3 L1613.5,918.4 L1615.2,918.5 L1616.9,918.6 L1618.7,918.6 L1620.4,918.7 L1622.2,918.8 L1623.9,918.9 L1625.7,919.0 L1627.4,919.1 L1629.2,919.1 L1630.9,919.2 L1632.7,919.3 L1634.4,919.4 L1636.2,919.5 L1637.9,919.5 L1639.7,919.6 L1641.4,919.7 L1643.1,919.8 L1644.9,919.9 L1646.6,919.9 L1648.4,920.0 L1650.1,920.1 L1651.9,920.2 L1653.6,920.3 L1655.4,920.3 L1657.1,920.4 L1658.9,920.5 L1660.6,920.6 L1662.4,920.7 L1664.1,920.8 L1665.9,920.8 L1667.6,920.9 L1669.3,921.0 L1671.1,921.1 L1672.8,921.2 L1674.6,921.2 L1676.3,921.3 L1678.1,921.4 L1679.8,921.5 L1681.6,921.6 L1683.3,921.6 L1685.1,921.7 L1686.8,921.8 L1688.6,921.9 L1690.3,922.0 L1692.0,922.1 L1693.8,922.1 L1695.5,922.2 L1697.3,922.3 L1699.0,922.4 L1700.8,922.5 L1702.5,922.5 L1704.3,922.6 L1706.0,922.7 L1707.8,922.8 L1709.5,922.9 L1711.3,923.0 L1713.0,923.0 L1714.8,923.1 L1716.5,923.2" stroke="#00ffff" stroke-dasharray="28 6 14 6"/>
<path d="M251.5,51.5 L254.9,71.8 L258.2,92.1 L261.6,112.5 L265.0,132.8 L268.3,153.1 L271.7,173.5 L275.1,193.8 L278.4,214.1 L281.8,234.5 L285.2,254.8 L288.5,275.2 L291.9,295.5 L295.3,315.9 L298.6,336.2 L302.0,356.6 L305.4,377.0 L308.8,397.3 L312.1,417.7 L315.5,438.1 L318.9,458.5 L322.2,478.9 L325.6,499.3 L329.0,519.6 L332.3,540.0 L335.7,560.4 L339.1,580.8 L342.4,601.2 L345.8,621.5 L349.2,641.9 L349.9,646.3 L350.6,650.8 L351.4,655.3 L352.1,659.7 L352.8,664.2 L353.6,668.6 L354.3,673.1 L355.1,677.5 L355.8,682.0 L356.5,686.4 L357.3,690.9 L358.0,695.3 L358.7,699.8 L359.5,704.2 L360.2,708.7 L360.9,713.2 L361.7,717.6 L362.4,722.1 L363.2,726.5 L363.9,731.0 L364.6,735.4 L365.4,739.7 L366.1,744.0 L366.8,748.2 L367.6,752.3 L368.3,756.4 L369.0,760.4 L369.8,764.3 L370.5,768.1 L371.3,771.9 L372.0,775.7 L372.7,779.3 L373.5,782.9 L374.2,786.5 L374.9,789.9 L375.7,793.4 L376.4,796.7 L377.1,800.0 L377.9,803.2 L378.6,806.4 L379.4,809.5 L380.1,812.6 L380.8,815.6 L381.6,818.5 L382.3,821.4 L383.0,824.3 L383.8,827.1 L384.5,829.8 L385.2,832.5 L386.0,835.1 L386.7,837.6 L387.4,840.2 L388.2,842.6 L388.9,845.0 L389.7,847.4 L390.4,849.7 L391.1,852.0 L391.9,854.2 L392.6,856.4 L393.3,858.5 L394.1,860.6 L394.8,862.6 L395.5,864.6 L396.3,866.5 L397.0,868.4 L397.8,870.2 L398.5,872.0 L399.2,873.8 L400.0,875.5 L400.7,877.2 L401.4,878.8 L402.2,880.4 L402.9,882.0 L403.6,883.5 L404.4,885.0 L405.1,886.5 L405.9,887.9 L406.6,889.2 L407.3,890.6 L408.1,891.9 L408.8,893.2 L409.5,894.4 L410.3,895.6 L411.0,896.8 L411.7,897.9 L412.5,899.0 L413.2,900.1 L414.0,901.2 L414.7,902.2 L415.4,903.2 L416.2,904.1 L416.9,905.1 L417.6,906.0 L418.4,906.8 L419.1,907.8 L419.8,908.7 L420.6,909.6 L421.3,910.5 L422.0,911.4 L422.8,912.3 L423.5,913.2 L424.3,914.1 L425.0,915.0 L425.7,915.9 L426.5,916.8 L427.2,917.6 L427.9,918.4 L428.7,919.2 L429.4,919.9 L430.1,920.7 L430.9,921.4 L431.6,922.0 L432.4,922.6 L433.1,923.2 L433.8,923.7 L434.6,924.2 L435.3,924.6 L436.0,925.0 L436.8,925.3 L437.5,925.6 L438.2,925.8 L439.0,926.0 L439.7,926.2 L440.5,926.4 L441.2,926.6 L441.9,926.7 L442.7,926.9 L443.4,927.0 L444.1,927.1 L444.9,927.2 L445.6,927.3 L446.3,927.4 L447.1,927.5 L447.8,927.6 L448.6,927.6 L449.3,927.7 L450.0,927.7 L450.8,927.8 L451.5,927.8 L452.2,927.8 L453.0,927.8 L453.7,927.9 L454.4,927.9 L455.2,927.9 L455.9,927.9 L456.6,927.9 L457.4,927.9 L458.1,927.9 L458.9,927.9 L459.6,927.9 L460.3,928.0 L461.1,928.0 L461.8,928.0 L462.5,928.0 L463.3,928.0 L464.0,928.0 L464.7,928.0 L465.5,928.1 L466.2,928.1 L467.0,928.1 L467.7,928.1 L468.4,928.2 L469.2,928.2 L469.9,928.2 L470.6,928.2 L471.4,928.3 L472.1,928.3 L472.8,928.3 L473.6,928.4 L474.3,928.4 L475.1,928.4 L475.8,928.5 L476.5,928.5 L477.3,928.5 L478.0,928.6 L478.7,928.6 L479.5,928.6 L480.2,928.7 L480.9,928.7 L481.7,928.7 L482.4,928.8 L483.2,928.8 L483.9,928.8 L484.6,928.9 L485.4,928.9 L486.1,928.9 L486.8,929.0 L487.6,929.0 L488.3,929.0 L489.0,929.1 L489.8,929.1 L490.5,929.1 L491.2,929.1 L492.0,929.1 L492.7,929.2 L493.5,929.2 L494.2,929.2 L494.9,929.2 L495.7,929.2 L497.4,929.2 L499.2,929.2 L500.9,929.2 L502.7,929.2 L504.4,929.2 L506.1,929.2 L507.9,929.2 L509.6,929.1 L511.4,929.1 L513.1,929.1 L514.9,929.1 L516.6,929.0 L518.4,929.0 L520.1,929.0 L521.9,928.9 L523.6,928.9 L525.4,928.9 L527.1,928.8 L528.9,928.8 L530.6,928.8 L532.3,928.7 L534.1,928.7 L535.8,928.7 L537.6,928.6 L539.3,928.6 L541.1,928.6 L542.8,928.5 L544.6,928.5 L546.3,928.4 L548.1,928.4 L549.8,928.3 L551.6,928.3 L553.3,928.2 L555.0,928.2 L556.8,928.1 L558.5,928.1 L560.3,928.0 L562.0,927.9 L563.8,927.9 L565.5,927.8 L567.3,927.7 L569.0,927.6 L570.8,927.6 L572.5,927.5 L574.3,927.4 L576.0,927.3 L577.8,927.2 L579.5,927.2 L581.2,927.1 L583.0,927.0 L584.7,926.9 L586.5,926.8 L588.2,926.7 L590.0,926.6 L591.7,926.5 L593.5,926.4 L595.2,926.3 L597.0,926.2 L598.7,926.1 L600.5,926.0 L602.2,925.9 L604.0,925.8 L605.7,925.7 L607.4,925.5 L609.2,925.4 L610.9,925.3 L612.7,925.2 L614.4,925.1 L616.2,924.9 L617.9,924.8 L619.7,924.7 L621.4,924.6 L623.2,924.4 L624.9,924.3 L626.7,924.2 L628.4,924.0 L630.2,923.9 L631.9,923.8 L633.6,923.6 L635.4,923.5 L637.1,923.4 L638.9,923.2 L640.6,923.1 L642.4,922.9 L644.1,922.8 L645.9,922.6 L647.6,922.5 L649.4,922.4 L651.1,922.2 L652.9,922.1 L654.6,921.9 L656.3,921.8 L658.1,921.6 L659.8,921.4 L661.6,921.3 L663.3,921.1 L665.1,921.0 L666.8,920.8 L668.6,920.7 L670.3,920.5 L672.1,920.4 L673.8,920.2 L675.6,920.0 L677.3,919.9 L679.1,919.7 L680.8,919.5 L682.5,919.4 L684.3,919.2 L686.0,919.1 L687.8,918.9 L689.5,918.7 L691.3,918.6 L693.0,918.4 L694.8,918.2 L696.5,918.1 L698.3,917.9 L700.0,917.8 L701.8,917.6 L703.5,917.4 L705.3,917.3 L707.0,917.1 L708.7,916.9 L710.5,916.8 L712.2,916.6 L714.0,916.4 L715.7,916.3 L717.5,916.1 L719.2,916.0 L721.0,915.8 L722.7,915.6 L724.5,915.5 L726.2,915.3 L728.0,915.1 L729.7,915.0 L731.4,914.8 L733.2,914.7 L734.9,914.5 L736.7,914.3 L738.4,914.2 L740.2,914.0 L741.9,913.8 L743.7,913.7 L745.4,913.5 L747.2,913.4 L748.9,913.2 L750.7,913.0 L752.4,912.9 L754.2,912.7 L755.9,912.6 L757.6,912.4 L759.4,912.2 L761.1,912.1 L762.9,911.9 L764.6,911.8 L766.4,911.6 L768.1,911.5 L769.9,911.3 L771.6,911.2 L773.4,911.0 L775.1,910.9 L776.9,910.7 L778.6,910.6 L780.4,910.4 L782.1,910.3 L783.8,910.1 L785.6,910.0 L787.3,909.8 L789.1,909.7 L790.8,909.5 L792.6,909.4 L794.3,909.2 L796.1,909.1 L797.8,909.0 L799.6,908.8 L801.3,908.7 L803.1,908.6 L804.8,908.4 L806.6,908.3 L808.3,908.2 L810.0,908.0 L811.8,907.9 L813.5,907.8 L815.3,907.6 L817.0,907.5 L818.8,907.4 L820.5,907.3 L822.3,907.2 L824.0,907.0 L825.8,906.9 L827.5,906.8 L829.3,906.7 L831.0,906.6 L832.7,906.5 L834.5,906.4 L836.2,906.3 L838.0,906.1 L839.7,906.0 L841.5,905.9 L843.2,905.8 L845.0,905.7 L846.7,905.6 L848.5,905.6 L850.2,905.5 L852.0,905.4 L853.7,905.3 L855.5,905.2 L857.2,905.1 L858.9,905.0 L860.7,904.9 L862.4,904.9 L864.2,904.8 L865.9,904.7 L867.7,904.6 L869.4,904.5 L871.2,904.5 L872.9,904.4 L874.7,904.3 L876.4,904.2 L878.2,904.2 L879.9,904.1 L881.7,904.0 L883.4,904.0 L885.1,903.9 L886.9,903.9 L888.6,903.8 L890.4,903.7 L892.1,903.7 L893.9,903.6 L895.6,903.6 L897.4,903.5 L899.1,903.5 L900.9,903.4 L902.6,903.4 L904.4,903.3 L906.1,903.3 L907.9,903.2 L909.6,903.2 L911.3,903.1 L913.1,903.1 L914.8,903.0 L916.6,903.0 L918.3,903.0 L920.1,902.9 L921.8,902.9 L923.6,902.9 L925.3,902.8 L927.1,902.8 L928.8,902.8 L930.6,902.7 L932.3,902.7 L934.0,902.7 L935.8,902.6 L937.5,902.6 L939.3,902.6 L941.0,902.5 L942.8,902.5 L944.5,902.5 L946.3,902.5 L948.0,902.5 L949.8,902.4 L951.5,902.4 L953.3,902.4 L955.0,902.4 L956.8,902.4 L958.5,902.3 L960.2,902.3 L962.0,902.3 L963.7,902.3 L965.5,902.3 L967.2,902.3 L969.0,902.3 L970.7,902.3 L972.5,902.3 L974.2,902.3 L976.0,902.2 L977.7,902.2 L979.5,902.2 L981.2,902.2 L983.0,902.2 L984.7,902.2 L986.4,902.2 L988.2,902.2 L989.9,902.2 L991.7,902.3 L993.4,902.3 L995.2,902.3 L996.9,902.3 L998.7,902.3 L1000.4,902.3 L1002.2,902.3 L1003.9,902.3 L1005.7,902.3 L1007.4,902.3 L1009.2,902.4 L1010.9,902.4 L1012.6,902.4 L1014.4,902.4 L1016.1,902.4 L1017.9,902.4 L1019.6,902.5 L1021.4,902.5 L1023.1,902.5 L1024.9,902.5 L1026.6,902.6 L1028.4,902.6 L1030.1,902.6 L1031.9,902.6 L1033.6,902.7 L1035.3,902.7 L1037.1,902.7 L1038.8,902.7 L1040.6,902.8 L1042.3,902.8 L1044.1,902.8 L1045.8,902.9 L1047.6,902.9 L1049.3,902.9 L1051.1,903.0 L1052.8,903.0 L1054.6,903.1 L1056.3,903.1 L1058.1,903.1 L1059.8,903.2 L1061.5,903.2 L1063.3,903.3 L1065.0,903.3 L1066.8,903.3 L1068.5,903.4 L1070.3,903.4 L1072.0,903.5 L1073.8,903.5 L1075.5,903.6 L1077.3,903.6 L1079.0,903.7 L1080.8,903.7 L1082.5,903.8 L1084.3,903.8 L1086.0,903.9 L1087.7,903.9 L1089.5,903.9 L1091.2,904.0 L1093.0,904.1 L1094.7,904.1 L1096.5,904.2 L1098.2,904.2 L1100.0,904.3 L1101.7,904.3 L1103.5,904.4 L1105.2,904.4 L1107.0,904.5 L1108.7,904.5 L1110.4,904.6 L1112.2,904.6 L1113.9,904.7 L1115.7,904.7 L1117.4,904.8 L1119.2,904.9 L1120.9,904.9 L1122.7,905.0 L1124.4,905.0 L1126.2,905.1 L1127.9,905.1 L1129.7,905.2 L1131.4,905.2 L1133.2,905.3 L1134.9,905.4 L1136.6,905.4 L1138.4,905.5 L1140.1,905.5 L1141.9,905.6 L1143.6,905.6 L1145.4,905.7 L1147.1,905.7 L1148.9,905.8 L1150.6,905.9 L1152.4,905.9 L1154.1,906.0 L1155.9,906.0 L1157.6,906.1 L1159.4,906.1 L1161.1,906.2 L1162.8,906.3 L1164.6,906.3 L1166.3,906.4 L1168.1,906.4 L1169.8,906.5 L1171.6,906.5 L1173.3,906.6 L1175.1,906.6 L1176.8,906.7 L1178.6,906.7 L1180.3,906.8 L1182.1,906.8 L1183.8,906.9 L1185.6,907.0 L1187.3,907.0 L1189.0,907.1 L1190.8,907.1 L1192.5,907.2 L1194.3,907.2 L1196.0,907.3 L1197.8,907.3 L1199.5,907.4 L1201.3,907.4 L1203.0,907.5 L1204.8,907.5 L1206.5,907.6 L1208.3,907.6 L1210.0,907.7 L1211.7,907.7 L1213.5,907.7 L1215.2,907.8 L1217.0,907.8 L1218.7,907.9 L1220.5,907.9 L1222.2,908.0 L1224.0,908.0 L1225.7,908.1 L1227.5,908.1 L1229.2,908.1 L1231.0,908.2 L1232.7,908.2 L1234.5,908.3 L1236.2,908.3 L1237.9,908.4 L1239.7,908.4 L1241.4,908.4 L1243.2,908.5 L1244.9,908.5 L1246.7,908.6 L1248.4,908.6 L1250.2,908.6 L1251.9,908.7 L1253.7,908.7 L1255.4,908.7 L1257.2,908.8 L1258.9,908.8 L1260.7,908.9 L1262.4,908.9 L1264.1,908.9 L1265.9,909.0 L1267.6,909.0 L1269.4,909.0 L1271.1,909.1 L1272.9,909.1 L1274.6,909.1 L1276.4,909.2 L1278.1,909.2 L1279.9,909.2 L1281.6,909.3 L1283.4,909.3 L1285.1,909.3 L1286.9,909.4 L1288.6,909.4 L1290.3,909.4 L1292.1,909.4 L1293.8,909.5 L1295.6,909.5 L1297.3,909.5 L1299.1,909.6 L1300.8,909.6 L1302.6,909.6 L1304.3,909.7 L1306.1,909.7 L1307.8,909.7 L1309.6,909.7 L1311.3,909.8 L1313.0,909.8 L1314.8,909.8 L1316.5,909.9 L1318.3,909.9 L1320.0,909.9 L1321.8,910.0 L1323.5,910.0 L1325.3,910.0 L1327.0,910.1 L1328.8,910.1 L1330.5,910.1 L1332.3,910.1 L1334.0,910.2 L1335.8,910.2 L1337.5,910.2 L1339.2,910.3 L1341.0,910.3 L1342.7,910.3 L1344.5,910.4 L1346.2,910.4 L1348.0,910.4 L1349.7,910.5 L1351.5,910.5 L1353.2,910.5 L1355.0,910.5 L1356.7,910.6 L1358.5,910.6 L1360.2,910.6 L1362.0,910.7 L1363.7,910.7 L1365.4,910.7 L1367.2,910.8 L1368.9,910.8 L1370.7,910.8 L1372.4,910.9 L1374.2,910.9 L1375.9,910.9 L1377.7,911.0 L1379.4,911.0 L1381.2,911.0 L1382.9,911.1 L1384.7,911.1 L1386.4,911.1 L1388.1,911.2 L1389.9,911.2 L1391.6,911.3 L1393.4,911.3 L1395.1,911.3 L1396.9,911.4 L1398.6,911.4 L1400.4,911.4 L1402.1,911.5 L1403.9,911.5 L1405.6,911.5 L1407.4,911.6 L1409.1,911.6 L1410.9,911.7 L1412.6,911.7 L1414.3,911.7 L1416.1,911.8 L1417.8,911.8 L1419.6,911.8 L1421.3,911.9 L1423.1,911.9 L1424.8,912.0 L1426.6,912.0 L1428.3,912.0 L1430.1,912.1 L1431.8,912.1 L1433.6,912.2 L1435.3,912.2 L1437.1,912.2 L1438.8,912.3 L1440.5,912.3 L1442.3,912.4 L1444.0,912.4 L1445.8,912.5 L1447.5,912.5 L1449.3,912.5 L1451.0,912.6 L1452.8,912.6 L1454.5,912.7 L1456.3,912.7 L1458.0,912.8 L1459.8,912.8 L1461.5,912.8 L1463.3,912.9 L1465.0,912.9 L1466.7,913.0 L1468.5,913.0 L1470.2,913.1 L1472.0,913.1 L1473.7,913.2 L1475.5,913.2 L1477.2,913.3 L1479.0,913.3 L1480.7,913.4 L1482.5,913.4 L1484.2,913.5 L1486.0,913.5 L1487.7,913.6 L1489.4,913.6 L1491.2,913.7 L1492.9,913.7 L1494.7,913.8 L1496.4,913.8 L1498.2,913.9 L1499.9,913.9 L1501.7,914.0 L1503.4,914.0 L1505.2,914.1 L1506.9,914.1 L1508.7,914.2 L1510.4,914.2 L1512.2,914.3 L1513.9,914.3 L1515.6,914.4 L1517.4,914.4 L1519.1,914.5 L1520.9,914.5 L1522.6,914.6 L1524.4,914.6 L1526.1,914.7 L1527.9,914.7 L1529.6,914.8 L1531.4,914.8 L1533.1,914.9 L1534.9,915.0 L1536.6,915.0 L1538.4,915.1 L1540.1,915.1 L1541.8,915.2 L1543.6,915.2 L1545.3,915.3 L1547.1,915.3 L1548.8,915.4 L1550.6,915.4 L1552.3,915.5 L1554.1,915.6 L1555.8,915.6 L1557.6,915.7 L1559.3,915.7 L1561.1,915.8 L1562.8,915.8 L1564.6,915.9 L1566.3,916.0 L1568.0,916.0 L1569.8,916.1 L1571.5,916.1 L1573.3,916.2 L1575.0,916.2 L1576.8,916.3 L1578.5,916.3 L1580.3,916.4 L1582.0,916.5 L1583.8,916.5 L1585.5,916.6 L1587.3,916.6 L1589.0,916.7 L1590.7,916.8 L1592.5,916.8 L1594.2,916.9 L1596.0,916.9 L1597.7,917.0 L1599.5,917.0 L1601.2,917.1 L1603.0,917.2 L1604.7,917.2 L1606.5,917.3 L1608.2,917.3 L1610.0,917.4 L1611.7,917.4 L1613.5,917.5 L1615.2,917.6 L1616.9,917.6 L1618.7,917.7 L1620.4,917.7 L1622.2,917.8 L1623.9,917.9 L1625.7,917.9 L1627.4,918.0 L1629.2,918.0 L1630.9,918.1 L1632.7,918.1 L1634.4,918.2 L1636.2,918.3 L1637.9,918.3 L1639.7,918.4 L1641.4,918.4 L1643.1,918.5 L1644.9,918.6 L1646.6,918.6 L1648.4,918.7 L1650.1,918.7 L1651.9,918.8 L1653.6,918.9 L1655.4,918.9 L1657.1,919.0 L1658.9,919.0 L1660.6,919.1 L1662.4,919.1 L1664.1,919.2 L1665.9,919.3 L1667.6,919.3 L1669.3,919.4 L1671.1,919.4 L1672.8,919.5 L1674.6,919.6 L1676.3,919.6 L1678.1,919.7 L1679.8,919.7 L1681.6,919.8 L1683.3,919.9 L1685.1,919.9 L1686.8,920.0 L1688.6,920.0 L1690.3,920.1 L1692.0,920.2 L1693.8,920.2 L1695.5,920.3 L1697.3,920.3 L1699.0,920.4 L1700.8,920.5 L1702.5,920.5 L1704.3,920.6 L1706.0,920.6 L1707.8,920.7 L1709.5,920.8 L1711.3,920.8 L1713.0,920.9 L1714.8,920.9 L1716.5,921.0" stroke="#0080ff" stroke-dasharray="7.3 6.2"/>
<path d="M251.5,51.5 L254.9,71.8 L258.2,92.1 L261.6,112.4 L265.0,132.7 L268.3,153.0 L271.7,173.3 L275.1,193.6 L278.4,213.9 L281.8,234.2 L285.2,254.5 L288.5,274.8 L291.9,295.1 L295.3,315.4 L298.6,335.7 L302.0,356.0 L305.4,376.3 L308.8,396.6 L312.1,416.9 L315.5,437.3 L318.9,457.6 L322.2,477.9 L325.6,498.2 L329.0,518.6 L332.3,538.9 L335.7,559.2 L339.1,579.5 L342.4,599.8 L345.8,620.2 L349.2,640.5 L349.9,644.9 L350.6,649.3 L351.4,653.8 L352.1,658.2 L352.8,662.7 L353.6,667.1 L354.3,671.5 L355.1,676.0 L355.8,680.4 L356.5,684.9 L357.3,689.3 L358.0,693.8 L358.7,698.2 L359.5,702.6 L360.2,707.1 L360.9,711.5 L361.7,716.0 L362.4,720.4 L363.2,724.9 L363.9,729.3 L364.6,733.7 L365.4,738.0 L366.1,742.3 L366.8,746.5 L367.6,750.6 L368.3,754.6 L369.0,758.6 L369.8,762.6 L370.5,766.4 L371.3,770.2 L372.0,773.9 L372.7,777.6 L373.5,781.2 L374.2,784.7 L374.9,788.2 L375.7,791.6 L376.4,795.0 L377.1,798.3 L377.9,801.5 L378.6,804.7 L379.4,807.8 L380.1,810.9 L380.8,813.9 L381.6,816.8 L382.3,819.7 L383.0,822.5 L383.8,825.3 L384.5,828.1 L385.2,830.7 L386.0,833.3 L386.7,835.9 L387.4,838.4 L388.2,840.9 L388.9,843.3 L389.7,845.7 L390.4,848.0 L391.1,850.3 L391.9,852.5 L392.6,854.6 L393.3,856.8 L394.1,858.8 L394.8,860.9 L395.5,862.8 L396.3,864.8 L397.0,866.7 L397.8,868.5 L398.5,870.3 L399.2,872.1 L400.0,873.8 L400.7,875.4 L401.4,877.1 L402.2,878.7 L402.9,880.2 L403.6,881.8 L404.4,883.2 L405.1,884.7 L405.9,886.1 L406.6,887.5 L407.3,888.8 L408.1,890.1 L408.8,891.3 L409.5,892.6 L410.3,893.8 L411.0,894.9 L411.7,896.1 L412.5,897.1 L413.2,898.2 L414.0,899.2 L414.7,900.2 L415.4,901.2 L416.2,902.1 L416.9,903.1 L417.6,903.9 L418.4,904.8 L419.1,905.7 L419.8,906.6 L420.6,907.5 L421.3,908.3 L422.0,909.2 L422.8,910.1 L423.5,911.0 L424.3,911.8 L425.0,912.7 L425.7,913.5 L426.5,914.3 L427.2,915.1 L427.9,915.8 L428.7,916.6 L429.4,917.3 L430.1,918.0 L430.9,918.6 L431.6,919.2 L432.4,919.8 L433.1,920.3 L433.8,920.8 L434.6,921.3 L435.3,921.7 L436.0,922.0 L436.8,922.3 L437.5,922.6 L438.2,922.8 L439.0,923.0 L439.7,923.2 L440.5,923.4 L441.2,923.5 L441.9,923.7 L442.7,923.8 L443.4,923.9 L444.1,924.0 L444.9,924.1 L445.6,924.2 L446.3,924.3 L447.1,924.4 L447.8,924.5 L448.6,924.5 L449.3,924.6 L450.0,924.6 L450.8,924.6 L451.5,924.7 L452.2,924.7 L453.0,924.7 L453.7,924.7 L454.4,924.8 L455.2,924.8 L455.9,924.8 L456.6,924.8 L457.4,924.8 L458.1,924.8 L458.9,924.8 L459.6,924.8 L460.3,924.8 L461.1,924.8 L461.8,924.8 L462.5,924.8 L463.3,924.8 L464.0,924.8 L464.7,924.8 L465.5,924.8 L466.2,924.8 L467.0,924.8 L467.7,924.8 L468.4,924.8 L469.2,924.8 L469.9,924.8 L470.6,924.8 L471.4,924.8 L472.1,924.8 L472.8,924.8 L473.6,924.8 L474.3,924.9 L475.1,924.9 L475.8,924.9 L476.5,924.9 L477.3,924.9 L478.0,924.9 L478.7,924.9 L479.5,924.9 L480.2,924.9 L480.9,924.9 L481.7,924.9 L482.4,924.9 L483.2,924.9 L483.9,924.9 L484.6,924.9 L485.4,924.9 L486.1,924.9 L486.8,924.9 L487.6,924.9 L488.3,924.9 L489.0,924.9 L489.8,924.9 L490.5,924.9 L491.2,924.9 L492.0,924.9 L492.7,924.9 L493.5,924.9 L494.2,924.9 L494.9,924.9 L495.7,925.0 L497.4,925.0 L499.2,925.0 L500.9,925.0 L502.7,925.0 L504.4,925.0 L506.1,925.0 L507.9,925.0 L509.6,925.0 L511.4,925.0 L513.1,925.0 L514.9,925.0 L516.6,925.0 L518.4,925.0 L520.1,925.0 L521.9,925.0 L523.6,925.0 L525.4,925.0 L527.1,925.0 L528.9,925.0 L530.6,924.9 L532.3,924.9 L534.1,924.9 L535.8,924.9 L537.6,924.9 L539.3,924.8 L541.1,924.8 L542.8,924.8 L544.6,924.8 L546.3,924.7 L548.1,924.7 L549.8,924.7 L551.6,924.6 L553.3,924.6 L555.0,924.6 L556.8,924.5 L558.5,924.5 L560.3,924.5 L562.0,924.4 L563.8,924.4 L565.5,924.3 L567.3,924.3 L569.0,924.2 L570.8,924.2 L572.5,924.1 L574.3,924.1 L576.0,924.0 L577.8,923.9 L579.5,923.9 L581.2,923.8 L583.0,923.8 L584.7,923.7 L586.5,923.6 L588.2,923.5 L590.0,923.5 L591.7,923.4 L593.5,923.3 L595.2,923.2 L597.0,923.2 L598.7,923.1 L600.5,923.0 L602.2,922.9 L604.0,922.8 L605.7,922.7 L607.4,922.7 L609.2,922.6 L610.9,922.5 L612.7,922.4 L614.4,922.3 L616.2,922.2 L617.9,922.1 L619.7,922.0 L621.4,921.9 L623.2,921.8 L624.9,921.7 L626.7,921.6 L628.4,921.5 L630.2,921.4 L631.9,921.3 L633.6,921.1 L635.4,921.0 L637.1,920.9 L638.9,920.8 L640.6,920.7 L642.4,920.6 L644.1,920.5 L645.9,920.4 L647.6,920.2 L649.4,920.1 L651.1,920.0 L652.9,919.9 L654.6,919.8 L656.3,919.7 L658.1,919.5 L659.8,919.4 L661.6,919.3 L663.3,919.2 L665.1,919.1 L666.8,918.9 L668.6,918.8 L670.3,918.7 L672.1,918.6 L673.8,918.5 L675.6,918.3 L677.3,918.2 L679.1,918.1 L680.8,918.0 L682.5,917.9 L684.3,917.7 L686.0,917.6 L687.8,917.5 L689.5,917.4 L691.3,917.3 L693.0,917.2 L694.8,917.0 L696.5,916.9 L698.3,916.8 L700.0,916.7 L701.8,916.6 L703.5,916.5 L705.3,916.3 L707.0,916.2 L708.7,916.1 L710.5,916.0 L712.2,915.9 L714.0,915.8 L715.7,915.7 L717.5,915.6 L719.2,915.4 L721.0,915.3 L722.7,915.2 L724.5,915.1 L726.2,915.0 L728.0,914.9 L729.7,914.8 L731.4,914.7 L733.2,914.5 L734.9,914.4 L736.7,914.3 L738.4,914.2 L740.2,914.1 L741.9,914.0 L743.7,913.9 L745.4,913.8 L747.2,913.7 L748.9,913.6 L750.7,913.5 L752.4,913.3 L754.2,913.2 L755.9,913.1 L757.6,913.0 L759.4,912.9 L761.1,912.8 L762.9,912.7 L764.6,912.6 L766.4,912.5 L768.1,912.4 L769.9,912.3 L771.6,912.2 L773.4,912.1 L775.1,912.0 L776.9,911.9 L778.6,911.8 L780.4,911.7 L782.1,911.6 L783.8,911.5 L785.6,911.4 L787.3,911.3 L789.1,911.2 L790.8,911.1 L792.6,911.0 L794.3,910.9 L796.1,910.8 L797.8,910.7 L799.6,910.6 L801.3,910.5 L803.1,910.4 L804.8,910.3 L806.6,910.2 L808.3,910.1 L810.0,910.0 L811.8,909.9 L813.5,909.8 L815.3,909.7 L817.0,909.6 L818.8,909.5 L820.5,909.4 L822.3,909.3 L824.0,909.2 L825.8,909.2 L827.5,909.1 L829.3,909.0 L831.0,908.9 L832.7,908.8 L834.5,908.7 L836.2,908.6 L838.0,908.5 L839.7,908.5 L841.5,908.4 L843.2,908.3 L845.0,908.2 L846.7,908.1 L848.5,908.0 L850.2,908.0 L852.0,907.9 L853.7,907.8 L855.5,907.7 L857.2,907.6 L858.9,907.6 L860.7,907.5 L862.4,907.4 L864.2,907.3 L865.9,907.3 L867.7,907.2 L869.4,907.1 L871.2,907.1 L872.9,907.0 L874.7,906.9 L876.4,906.8 L878.2,906.8 L879.9,906.7 L881.7,906.7 L883.4,906.6 L885.1,906.5 L886.9,906.5 L888.6,906.4 L890.4,906.3 L892.1,906.3 L893.9,906.2 L895.6,906.2 L897.4,906.1 L899.1,906.1 L900.9,906.0 L902.6,906.0 L904.4,905.9 L906.1,905.9 L907.9,905.8 L909.6,905.8 L911.3,905.7 L913.1,905.7 L914.8,905.6 L916.6,905.6 L918.3,905.6 L920.1,905.5 L921.8,905.5 L923.6,905.4 L925.3,905.4 L927.1,905.4 L928.8,905.3 L930.6,905.3 L932.3,905.3 L934.0,905.2 L935.8,905.2 L937.5,905.2 L939.3,905.2 L941.0,905.1 L942.8,905.1 L944.5,905.1 L946.3,905.1 L948.0,905.1 L949.8,905.0 L951.5,905.0 L953.3,905.0 L955.0,905.0 L956.8,905.0 L958.5,905.0 L960.2,904.9 L962.0,904.9 L963.7,904.9 L965.5,904.9 L967.2,904.9 L969.0,904.9 L970.7,904.9 L972.5,904.9 L974.2,904.9 L976.0,904.9 L977.7,904.9 L979.5,904.9 L981.2,904.9 L983.0,904.9 L984.7,904.9 L986.4,904.9 L988.2,904.9 L989.9,904.9 L991.7,904.9 L993.4,904.9 L995.2,905.0 L996.9,905.0 L998.7,905.0 L1000.4,905.0 L1002.2,905.0 L1003.9,905.0 L1005.7,905.0 L1007.4,905.1 L1009.2,905.1 L1010.9,905.1 L1012.6,905.1 L1014.4,905.2 L1016.1,905.2 L1017.9,905.2 L1019.6,905.2 L1021.4,905.3 L1023.1,905.3 L1024.9,905.3 L1026.6,905.3 L1028.4,905.4 L1030.1,905.4 L1031.9,905.4 L1033.6,905.5 L1035.3,905.5 L1037.1,905.5 L1038.8,905.6 L1040.6,905.6 L1042.3,905.7 L1044.1,905.7 L1045.8,905.7 L1047.6,905.8 L1049.3,905.8 L1051.1,905.8 L1052.8,905.9 L1054.6,905.9 L1056.3,906.0 L1058.1,906.0 L1059.8,906.1 L1061.5,906.1 L1063.3,906.1 L1065.0,906.2 L1066.8,906.2 L1068.5,906.3 L1070.3,906.3 L1072.0,906.4 L1073.8,906.4 L1075.5,906.4 L1077.3,906.5 L1079.0,906.5 L1080.8,906.6 L1082.5,906.6 L1084.3,906.7 L1086.0,906.7 L1087.7,906.8 L1089.5,906.8 L1091.2,906.8 L1093.0,906.9 L1094.7,906.9 L1096.5,907.0 L1098.2,907.0 L1100.0,907.1 L1101.7,907.1 L1103.5,907.2 L1105.2,907.2 L1107.0,907.3 L1108.7,907.3 L1110.4,907.3 L1112.2,907.4 L1113.9,907.4 L1115.7,907.5 L1117.4,907.5 L1119.2,907.6 L1120.9,907.6 L1122.7,907.6 L1124.4,907.7 L1126.2,907.7 L1127.9,907.8 L1129.7,907.8 L1131.4,907.9 L1133.2,907.9 L1134.9,907.9 L1136.6,908.0 L1138.4,908.0 L1140.1,908.1 L1141.9,908.1 L1143.6,908.1 L1145.4,908.2 L1147.1,908.2 L1148.9,908.3 L1150.6,908.3 L1152.4,908.4 L1154.1,908.4 L1155.9,908.4 L1157.6,908.5 L1159.4,908.5 L1161.1,908.6 L1162.8,908.6 L1164.6,908.6 L1166.3,908.7 L1168.1,908.7 L1169.8,908.7 L1171.6,908.8 L1173.3,908.8 L1175.1,908.9 L1176.8,908.9 L1178.6,908.9 L1180.3,909.0 L1182.1,909.0 L1183.8,909.0 L1185.6,909.1 L1187.3,909.1 L1189.0,909.2 L1190.8,909.2 L1192.5,909.2 L1194.3,909.3 L1196.0,909.3 L1197.8,909.3 L1199.5,909.4 L1201.3,909.4 L1203.0,909.4 L1204.8,909.5 L1206.5,909.5 L1208.3,909.5 L1210.0,909.6 L1211.7,909.6 L1213.5,909.6 L1215.2,909.7 L1217.0,909.7 L1218.7,909.7 L1220.5,909.8 L1222.2,909.8 L1224.0,909.8 L1225.7,909.8 L1227.5,909.9 L1229.2,909.9 L1231.0,909.9 L1232.7,910.0 L1234.5,910.0 L1236.2,910.0 L1237.9,910.0 L1239.7,910.1 L1241.4,910.1 L1243.2,910.1 L1244.9,910.1 L1246.7,910.2 L1248.4,910.2 L1250.2,910.2 L1251.9,910.2 L1253.7,910.2 L1255.4,910.3 L1257.2,910.3 L1258.9,910.3 L1260.7,910.3 L1262.4,910.3 L1264.1,910.4 L1265.9,910.4 L1267.6,910.4 L1269.4,910.4 L1271.1,910.4 L1272.9,910.5 L1274.6,910.5 L1276.4,910.5 L1278.1,910.5 L1279.9,910.5 L1281.6,910.6 L1283.4,910.6 L1285.1,910.6 L1286.9,910.6 L1288.6,910.6 L1290.3,910.7 L1292.1,910.7 L1293.8,910.7 L1295.6,910.7 L1297.3,910.7 L1299.1,910.8 L1300.8,910.8 L1302.6,910.8 L1304.3,910.8 L1306.1,910.8 L1307.8,910.9 L1309.6,910.9 L1311.3,910.9 L1313.0,910.9 L1314.8,911.0 L1316.5,911.0 L1318.3,911.0 L1320.0,911.0 L1321.8,911.0 L1323.5,911.1 L1325.3,911.1 L1327.0,911.1 L1328.8,911.1 L1330.5,911.2 L1332.3,911.2 L1334.0,911.2 L1335.8,911.2 L1337.5,911.3 L1339.2,911.3 L1341.0,911.3 L1342.7,911.3 L1344.5,911.4 L1346.2,911.4 L1348.0,911.4 L1349.7,911.5 L1351.5,911.5 L1353.2,911.5 L1355.0,911.5 L1356.7,911.6 L1358.5,911.6 L1360.2,911.6 L1362.0,911.7 L1363.7,911.7 L1365.4,911.7 L1367.2,911.8 L1368.9,911.8 L1370.7,911.8 L1372.4,911.9 L1374.2,911.9 L1375.9,911.9 L1377.7,912.0 L1379.4,912.0 L1381.2,912.0 L1382.9,912.1 L1384.7,912.1 L1386.4,912.1 L1388.1,912.2 L1389.9,912.2 L1391.6,912.2 L1393.4,912.3 L1395.1,912.3 L1396.9,912.3 L1398.6,912.4 L1400.4,912.4 L1402.1,912.4 L1403.9,912.5 L1405.6,912.5 L1407.4,912.6 L1409.1,912.6 L1410.9,912.6 L1412.6,912.7 L1414.3,912.7 L1416.1,912.7 L1417.8,912.8 L1419.6,912.8 L1421.3,912.9 L1423.1,912.9 L1424.8,912.9 L1426.6,913.0 L1428.3,913.0 L1430.1,913.1 L1431.8,913.1 L1433.6,913.1 L1435.3,913.2 L1437.1,913.2 L1438.8,913.3 L1440.5,913.3 L1442.3,913.3 L1444.0,913.4 L1445.8,913.4 L1447.5,913.4 L1449.3,913.5 L1451.0,913.5 L1452.8,913.6 L1454.5,913.6 L1456.3,913.7 L1458.0,913.7 L1459.8,913.7 L1461.5,913.8 L1463.3,913.8 L1465.0,913.9 L1466.7,913.9 L1468.5,913.9 L1470.2,914.0 L1472.0,914.0 L1473.7,914.1 L1475.5,914.1 L1477.2,914.1 L1479.0,914.2 L1480.7,914.2 L1482.5,914.3 L1484.2,914.3 L1486.0,914.4 L1487.7,914.4 L1489.4,914.4 L1491.2,914.5 L1492.9,914.5 L1494.7,914.6 L1496.4,914.6 L1498.2,914.6 L1499.9,914.7 L1501.7,914.7 L1503.4,914.8 L1505.2,914.8 L1506.9,914.9 L1508.7,914.9 L1510.4,914.9 L1512.2,915.0 L1513.9,915.0 L1515.6,915.1 L1517.4,915.1 L1519.1,915.2 L1520.9,915.2 L1522.6,915.2 L1524.4,915.3 L1526.1,915.3 L1527.9,915.4 L1529.6,915.4 L1531.4,915.5 L1533.1,915.5 L1534.9,915.6 L1536.6,915.6 L1538.4,915.6 L1540.1,915.7 L1541.8,915.7 L1543.6,915.8 L1545.3,915.8 L1547.1,915.9 L1548.8,915.9 L1550.6,915.9 L1552.3,916.0 L1554.1,916.0 L1555.8,916.1 L1557.6,916.1 L1559.3,916.2 L1561.1,916.2 L1562.8,916.3 L1564.6,916.3 L1566.3,916.4 L1568.0,916.4 L1569.8,916.4 L1571.5,916.5 L1573.3,916.5 L1575.0,916.6 L1576.8,916.6 L1578.5,916.7 L1580.3,916.7 L1582.0,916.8 L1583.8,916.8 L1585.5,916.9 L1587.3,916.9 L1589.0,917.0 L1590.7,917.0 L1592.5,917.0 L1594.2,917.1 L1596.0,917.1 L1597.7,917.2 L1599.5,917.2 L1601.2,917.3 L1603.0,917.3 L1604.7,917.4 L1606.5,917.4 L1608.2,917.5 L1610.0,917.5 L1611.7,917.6 L1613.5,917.6 L1615.2,917.7 L1616.9,917.7 L1618.7,917.8 L1620.4,917.8 L1622.2,917.9 L1623.9,917.9 L1625.7,917.9 L1627.4,918.0 L1629.2,918.0 L1630.9,918.1 L1632.7,918.1 L1634.4,918.2 L1636.2,918.2 L1637.9,918.3 L1639.7,918.3 L1641.4,918.4 L1643.1,918.4 L1644.9,918.5 L1646.6,918.5 L1648.4,918.6 L1650.1,918.6 L1651.9,918.7 L1653.6,918.7 L1655.4,918.8 L1657.1,918.8 L1658.9,918.9 L1660.6,918.9 L1662.4,919.0 L1664.1,919.0 L1665.9,919.1 L1667.6,919.1 L1669.3,919.2 L1671.1,919.2 L1672.8,919.3 L1674.6,919.3 L1676.3,919.4 L1678.1,919.4 L1679.8,919.5 L1681.6,919.5 L1683.3,919.6 L1685.1,919.6 L1686.8,919.7 L1688.6,919.7 L1690.3,919.8 L1692.0,919.8 L1693.8,919.9 L1695.5,919.9 L1697.3,920.0 L1699.0,920.0 L1700.8,920.1 L1702.5,920.1 L1704.3,920.2 L1706.0,920.2 L1707.8,920.2 L1709.5,920.3 L1711.3,920.3 L1713.0,920.4 L1714.8,920.4 L1716.5,920.5" stroke="#0000ff" stroke-dasharray="28 26"/>
<path d="M251.5,51.5 L254.9,71.9 L258.2,92.3 L261.6,112.7 L265.0,133.1 L268.3,153.5 L271.7,173.9 L275.1,194.4 L278.4,214.8 L281.8,235.2 L285.2,255.6 L288.5,276.1 L291.9,296.5 L295.3,316.9 L298.6,337.3 L302.0,357.8 L305.4,378.2 L308.8,398.6 L312.1,419.0 L315.5,439.3 L318.9,459.7 L322.2,480.1 L325.6,500.5 L329.0,520.9 L332.3,541.3 L335.7,561.8 L339.1,582.3 L342.4,602.9 L345.8,623.5 L349.2,644.2 L349.9,648.8 L350.6,653.5 L351.4,658.3 L352.1,663.1 L352.8,668.1 L353.6,673.1 L354.3,678.2 L355.1,683.3 L355.8,688.5 L356.5,693.7 L357.3,698.9 L358.0,704.2 L358.7,709.4 L359.5,714.6 L360.2,719.8 L360.9,725.0 L361.7,730.1 L362.4,735.2 L363.2,740.2 L363.9,745.2 L364.6,750.0 L365.4,754.7 L366.1,759.2 L366.8,763.5 L367.6,767.7 L368.3,771.7 L369.0,775.7 L369.8,779.6 L370.5,783.4 L371.3,787.2 L372.0,790.9 L372.7,794.5 L373.5,798.1 L374.2,801.6 L374.9,805.1 L375.7,808.5 L376.4,811.8 L377.1,815.1 L377.9,818.4 L378.6,821.5 L379.4,824.7 L380.1,827.8 L380.8,830.8 L381.6,833.7 L382.3,836.7 L383.0,839.5 L383.8,842.3 L384.5,845.1 L385.2,847.8 L386.0,850.4 L386.7,853.0 L387.4,855.6 L388.2,858.1 L388.9,860.6 L389.7,863.0 L390.4,865.4 L391.1,867.8 L391.9,870.2 L392.6,872.6 L393.3,875.0 L394.1,877.3 L394.8,879.7 L395.5,882.0 L396.3,884.3 L397.0,886.6 L397.8,888.8 L398.5,891.0 L399.2,893.2 L400.0,895.5 L400.7,897.9 L401.4,900.2 L402.2,902.5 L402.9,904.9 L403.6,907.1 L404.4,909.3 L405.1,911.5 L405.9,913.5 L406.6,915.4 L407.3,917.2 L408.1,919.0 L408.8,920.7 L409.5,922.4 L410.3,924.0 L411.0,925.6 L411.7,927.1 L412.5,928.5 L413.2,930.0 L414.0,931.4 L414.7,932.7 L415.4,934.0 L416.2,935.3 L416.9,936.6 L417.6,937.8 L418.4,938.9 L419.1,940.1 L419.8,941.2 L420.6,942.3 L421.3,943.3 L422.0,944.3 L422.8,945.2 L423.5,946.2 L424.3,947.1 L425.0,948.0 L425.7,948.8 L426.5,949.6 L427.2,950.5 L427.9,951.3 L428.7,952.0 L429.4,952.8 L430.1,953.6 L430.9,954.4 L431.6,955.1 L432.4,955.9 L433.1,956.7 L433.8,957.4 L434.6,958.2 L435.3,958.9 L436.0,959.7 L436.8,960.4 L437.5,961.2 L438.2,961.9 L439.0,962.6 L439.7,963.4 L440.5,964.1 L441.2,964.8 L441.9,965.4 L442.7,966.1 L443.4,966.7 L444.1,967.3 L444.9,967.9 L445.6,968.5 L446.3,969.1 L447.1,969.6 L447.8,970.2 L448.6,970.7 L449.3,971.3 L450.0,971.8 L450.8,972.3 L451.5,972.8 L452.2,973.3 L453.0,973.8 L453.7,974.3 L454.4,974.8 L455.2,975.3 L455.9,975.8 L456.6,976.2 L457.4,976.7 L458.1,977.2 L458.9,977.7 L459.6,978.1 L460.3,978.6 L461.1,979.1 L461.8,979.6 L462.5,980.0 L463.3,980.5 L464.0,981.0 L464.7,981.5 L465.5,981.9 L466.2,982.4 L467.0,982.9 L467.7,983.3 L468.4,983.8 L469.2,984.3 L469.9,984.8 L470.6,985.2 L471.4,985.7 L472.1,986.2 L472.8,986.6 L473.6,987.1 L474.3,987.6 L475.1,988.0 L475.8,988.5 L476.5,989.0 L477.3,989.4 L478.0,989.9 L478.7,990.4 L479.5,990.8 L480.2,991.3 L480.9,991.8 L481.7,992.2 L482.4,992.7 L483.2,993.2 L483.9,993.6 L484.6,994.1 L485.4,994.6 L486.1,995.0 L486.8,995.5 L487.6,996.0 L488.3,996.4 L489.0,996.9 L489.8,997.3 L490.5,997.8 L491.2,998.3 L492.0,998.7 L492.7,999.2 L493.5,999.7 L494.2,1000.1 L494.9,1000.6 L495.7,1001.1 L497.4,1002.2 L499.2,1003.3 L500.9,1004.4 L502.7,1005.5 L504.4,1006.6 L506.1,1007.7 L507.9,1008.8 L509.6,1009.9 L511.4,1011.0 L513.1,1012.1 L514.9,1013.2 L516.6,1014.3 L518.4,1015.4 L520.1,1016.5 L521.9,1017.6 L523.6,1018.7 L525.4,1019.8 L527.1,1020.9 L528.9,1022.0 L530.6,1023.1 L532.3,1024.2 L534.1,1025.3 L535.8,1026.4 L537.6,1027.4 L539.3,1028.5 L541.1,1029.6 L542.8,1030.7 L544.6,1031.7 L546.3,1032.8 L548.1,1033.8 L549.8,1034.9 L551.6,1035.9 L553.3,1037.0 L555.0,1038.0 L556.8,1039.1 L558.5,1040.1 L560.3,1041.1 L562.0,1042.1 L563.8,1043.1 L565.5,1044.2 L567.3,1045.2 L569.0,1046.2 L570.8,1047.2 L572.5,1048.2 L574.3,1049.1 L576.0,1050.1 L577.8,1051.1 L579.5,1052.1 L581.2,1053.0 L583.0,1054.0 L584.7,1054.9 L586.5,1055.8 L588.2,1056.8 L590.0,1057.7 L591.7,1058.6 L593.5,1059.5 L595.2,1060.4 L597.0,1061.3 L598.7,1062.2 L600.5,1063.0 L602.2,1063.9 L604.0,1064.7 L605.7,1065.6 L607.4,1066.4 L609.2,1067.2 L610.9,1068.0 L612.7,1068.8 L614.4,1069.6 L616.2,1070.4 L617.9,1071.2 L619.7,1071.9 L621.4,1072.7 L623.2,1073.4 L624.9,1074.1 L626.7,1074.9 L628.4,1075.6 L630.2,1076.3 L631.9,1076.9 L633.6,1077.6 L635.4,1078.3 L637.1,1078.9 L638.9,1079.5 L640.6,1080.2 L642.4,1080.8 L644.1,1081.4 L645.9,1082.0 L647.6,1082.5 L649.4,1083.1 L651.1,1083.7 L652.9,1084.2 L654.6,1084.7 L656.3,1085.2 L658.1,1085.7 L659.8,1086.2 L661.6,1086.7 L663.3,1087.2 L665.1,1087.6 L666.8,1088.1 L668.6,1088.5 L670.3,1088.9 L672.1,1089.3 L673.8,1089.7 L675.6,1090.1 L677.3,1090.4 L679.1,1090.8 L680.8,1091.1 L682.5,1091.4 L684.3,1091.7 L686.0,1092.0 L687.8,1092.3 L689.5,1092.5 L691.3,1092.8 L693.0,1093.0 L694.8,1093.3 L696.5,1093.5 L698.3,1093.7 L700.0,1093.8 L701.8,1094.0 L703.5,1094.2 L705.3,1094.3 L707.0,1094.4 L708.7,1094.5 L710.5,1094.6 L712.2,1094.7 L714.0,1094.8 L715.7,1094.9 L717.5,1094.9 L719.2,1094.9 L721.0,1094.9 L722.7,1094.9 L724.5,1094.9 L726.2,1094.9 L728.0,1094.9 L729.7,1094.8 L731.4,1094.7 L733.2,1094.7 L734.9,1094.6 L736.7,1094.5 L738.4,1094.3 L740.2,1094.2 L741.9,1094.1 L743.7,1093.9 L745.4,1093.7 L747.2,1093.5 L748.9,1093.3 L750.7,1093.1 L752.4,1092.9 L754.2,1092.7 L755.9,1092.4 L757.6,1092.1 L759.4,1091.9 L761.1,1091.6 L762.9,1091.3 L764.6,1091.0 L766.4,1090.6 L768.1,1090.3 L769.9,1090.0 L771.6,1089.6 L773.4,1089.3 L775.1,1088.9 L776.9,1088.5 L778.6,1088.1 L780.4,1087.7 L782.1,1087.3 L783.8,1086.8 L785.6,1086.4 L787.3,1086.0 L789.1,1085.5 L790.8,1085.1 L792.6,1084.6 L794.3,1084.1 L796.1,1083.6 L797.8,1083.1 L799.6,1082.6 L801.3,1082.1 L803.1,1081.6 L804.8,1081.0 L806.6,1080.5 L808.3,1079.9 L810.0,1079.4 L811.8,1078.8 L813.5,1078.2 L815.3,1077.7 L817.0,1077.1 L818.8,1076.5 L820.5,1075.9 L822.3,1075.2 L824.0,1074.6 L825.8,1074.0 L827.5,1073.3 L829.3,1072.7 L831.0,1072.0 L832.7,1071.4 L834.5,1070.7 L836.2,1070.0 L838.0,1069.3 L839.7,1068.6 L841.5,1067.9 L843.2,1067.2 L845.0,1066.5 L846.7,1065.7 L848.5,1065.0 L850.2,1064.3 L852.0,1063.5 L853.7,1062.8 L855.5,1062.0 L857.2,1061.2 L858.9,1060.4 L860.7,1059.6 L862.4,1058.8 L864.2,1058.0 L865.9,1057.2 L867.7,1056.4 L869.4,1055.6 L871.2,1054.8 L872.9,1053.9 L874.7,1053.1 L876.4,1052.2 L878.2,1051.4 L879.9,1050.5 L881.7,1049.7 L883.4,1048.8 L885.1,1047.9 L886.9,1047.1 L888.6,1046.2 L890.4,1045.3 L892.1,1044.4 L893.9,1043.5 L895.6,1042.6 L897.4,1041.7 L899.1,1040.8 L900.9,1039.9 L902.6,1038.9 L904.4,1038.0 L906.1,1037.1 L907.9,1036.2 L909.6,1035.2 L911.3,1034.3 L913.1,1033.4 L914.8,1032.4 L916.6,1031.5 L918.3,1030.5 L920.1,1029.6 L921.8,1028.6 L923.6,1027.7 L925.3,1026.7 L927.1,1025.7 L928.8,1024.8 L930.6,1023.8 L932.3,1022.8 L934.0,1021.8 L935.8,1020.9 L937.5,1019.9 L939.3,1018.9 L941.0,1017.9 L942.8,1016.9 L944.5,1015.9 L946.3,1014.9 L948.0,1013.9 L949.8,1012.9 L951.5,1011.9 L953.3,1010.9 L955.0,1009.9 L956.8,1008.9 L958.5,1007.9 L960.2,1006.9 L962.0,1005.9 L963.7,1004.8 L965.5,1003.8 L967.2,1002.8 L969.0,1001.8 L970.7,1000.7 L972.5,999.7 L974.2,998.7 L976.0,997.6 L977.7,996.6 L979.5,995.6 L981.2,994.5 L983.0,993.5 L984.7,992.4 L986.4,991.4 L988.2,990.3 L989.9,989.2 L991.7,988.2 L993.4,987.1 L995.2,986.0 L996.9,985.0 L998.7,983.9 L1000.4,982.8 L1002.2,981.7 L1003.9,980.7 L1005.7,979.6 L1007.4,978.5 L1009.2,977.4 L1010.9,976.3 L1012.6,975.2 L1014.4,974.1 L1016.1,973.0 L1017.9,971.9 L1019.6,970.8 L1021.4,969.7 L1023.1,968.6 L1024.9,967.5 L1026.6,966.4 L1028.4,965.2 L1030.1,964.1 L1031.9,963.0 L1033.6,961.9 L1035.3,960.7 L1037.1,959.6 L1038.8,958.5 L1040.6,957.3 L1042.3,956.2 L1044.1,955.1 L1045.8,953.9 L1047.6,952.8 L1049.3,951.6 L1051.1,950.5 L1052.8,949.3 L1054.6,948.2 L1056.3,947.0 L1058.1,945.9 L1059.8,944.7 L1061.5,943.6 L1063.3,942.4 L1065.0,941.2 L1066.8,940.1 L1068.5,938.9 L1070.3,937.7 L1072.0,936.6 L1073.8,935.4 L1075.5,934.2 L1077.3,933.0 L1079.0,931.8 L1080.8,930.7 L1082.5,929.5 L1084.3,928.3 L1086.0,927.1 L1087.7,925.9 L1089.5,924.7 L1091.2,923.5 L1093.0,922.3 L1094.7,921.2 L1096.5,920.0 L1098.2,918.8 L1100.0,917.6 L1101.7,916.4 L1103.5,915.2 L1105.2,914.0 L1107.0,912.8 L1108.7,911.6 L1110.4,910.4 L1112.2,909.2 L1113.9,908.0 L1115.7,906.8 L1117.4,905.6 L1119.2,904.4 L1120.9,903.2 L1122.7,902.0 L1124.4,900.8 L1126.2,899.7 L1127.9,898.5 L1129.7,897.3 L1131.4,896.1 L1133.2,894.9 L1134.9,893.7 L1136.6,892.5 L1138.4,891.3 L1140.1,890.1 L1141.9,889.0 L1143.6,887.8 L1145.4,886.6 L1147.1,885.4 L1148.9,884.2 L1150.6,883.1 L1152.4,881.9 L1154.1,880.7 L1155.9,879.5 L1157.6,878.4 L1159.4,877.2 L1161.1,876.0 L1162.8,874.9 L1164.6,873.7 L1166.3,872.5 L1168.1,871.4 L1169.8,870.2 L1171.6,869.1 L1173.3,867.9 L1175.1,866.8 L1176.8,865.6 L1178.6,864.5 L1180.3,863.3 L1182.1,862.2 L1183.8,861.1 L1185.6,859.9 L1187.3,858.8 L1189.0,857.7 L1190.8,856.6 L1192.5,855.4 L1194.3,854.3 L1196.0,853.2 L1197.8,852.1 L1199.5,851.0 L1201.3,849.9 L1203.0,848.8 L1204.8,847.8 L1206.5,846.7 L1208.3,845.6 L1210.0,844.5 L1211.7,843.5 L1213.5,842.4 L1215.2,841.4 L1217.0,840.3 L1218.7,839.3 L1220.5,838.2 L1222.2,837.2 L1224.0,836.2 L1225.7,835.2 L1227.5,834.1 L1229.2,833.1 L1231.0,832.1 L1232.7,831.1 L1234.5,830.2 L1236.2,829.2 L1237.9,828.2 L1239.7,827.2 L1241.4,826.3 L1243.2,825.3 L1244.9,824.4 L1246.7,823.5 L1248.4,822.5 L1250.2,821.6 L1251.9,820.7 L1253.7,819.8 L1255.4,818.9 L1257.2,818.0 L1258.9,817.2 L1260.7,816.3 L1262.4,815.5 L1264.1,814.6 L1265.9,813.8 L1267.6,813.0 L1269.4,812.2 L1271.1,811.4 L1272.9,810.6 L1274.6,809.8 L1276.4,809.0 L1278.1,808.3 L1279.9,807.5 L1281.6,806.8 L1283.4,806.0 L1285.1,805.3 L1286.9,804.6 L1288.6,803.9 L1290.3,803.2 L1292.1,802.5 L1293.8,801.9 L1295.6,801.2 L1297.3,800.6 L1299.1,799.9 L1300.8,799.3 L1302.6,798.7 L1304.3,798.1 L1306.1,797.5 L1307.8,796.9 L1309.6,796.3 L1311.3,795.8 L1313.0,795.2 L1314.8,794.6 L1316.5,794.1 L1318.3,793.6 L1320.0,793.0 L1321.8,792.5 L1323.5,792.0 L1325.3,791.5 L1327.0,791.0 L1328.8,790.6 L1330.5,790.1 L1332.3,789.6 L1334.0,789.2 L1335.8,788.8 L1337.5,788.3 L1339.2,787.9 L1341.0,787.5 L1342.7,787.1 L1344.5,786.7 L1346.2,786.3 L1348.0,785.9 L1349.7,785.5 L1351.5,785.2 L1353.2,784.8 L1355.0,784.4 L1356.7,784.1 L1358.5,783.8 L1360.2,783.4 L1362.0,783.1 L1363.7,782.8 L1365.4,782.5 L1367.2,782.2 L1368.9,781.9 L1370.7,781.6 L1372.4,781.4 L1374.2,781.1 L1375.9,780.8 L1377.7,780.6 L1379.4,780.3 L1381.2,780.1 L1382.9,779.8 L1384.7,779.6 L1386.4,779.4 L1388.1,779.2 L1389.9,779.0 L1391.6,778.8 L1393.4,778.6 L1395.1,778.4 L1396.9,778.2 L1398.6,778.0 L1400.4,777.9 L1402.1,777.7 L1403.9,777.5 L1405.6,777.4 L1407.4,777.2 L1409.1,777.1 L1410.9,777.0 L1412.6,776.8 L1414.3,776.7 L1416.1,776.6 L1417.8,776.5 L1419.6,776.4 L1421.3,776.2 L1423.1,776.2 L1424.8,776.1 L1426.6,776.0 L1428.3,775.9 L1430.1,775.8 L1431.8,775.7 L1433.6,775.7 L1435.3,775.6 L1437.1,775.6 L1438.8,775.5 L1440.5,775.5 L1442.3,775.4 L1444.0,775.4 L1445.8,775.4 L1447.5,775.3 L1449.3,775.3 L1451.0,775.3 L1452.8,775.3 L1454.5,775.3 L1456.3,775.3 L1458.0,775.3 L1459.8,775.3 L1461.5,775.4 L1463.3,775.4 L1465.0,775.4 L1466.7,775.5 L1468.5,775.5 L1470.2,775.6 L1472.0,775.6 L1473.7,775.7 L1475.5,775.7 L1477.2,775.8 L1479.0,775.9 L1480.7,776.0 L1482.5,776.1 L1484.2,776.1 L1486.0,776.2 L1487.7,776.4 L1489.4,776.5 L1491.2,776.6 L1492.9,776.7 L1494.7,776.8 L1496.4,777.0 L1498.2,777.1 L1499.9,777.2 L1501.7,777.4 L1503.4,777.6 L1505.2,777.7 L1506.9,777.9 L1508.7,778.0 L1510.4,778.2 L1512.2,778.4 L1513.9,778.6 L1515.6,778.8 L1517.4,779.0 L1519.1,779.2 L1520.9,779.4 L1522.6,779.6 L1524.4,779.8 L1526.1,780.0 L1527.9,780.2 L1529.6,780.5 L1531.4,780.7 L1533.1,781.0 L1534.9,781.2 L1536.6,781.4 L1538.4,781.7 L1540.1,782.0 L1541.8,782.2 L1543.6,782.5 L1545.3,782.8 L1547.1,783.0 L1548.8,783.3 L1550.6,783.6 L1552.3,783.9 L1554.1,784.2 L1555.8,784.5 L1557.6,784.8 L1559.3,785.1 L1561.1,785.4 L1562.8,785.8 L1564.6,786.1 L1566.3,786.4 L1568.0,786.8 L1569.8,787.1 L1571.5,787.4 L1573.3,787.8 L1575.0,788.1 L1576.8,788.5 L1578.5,788.9 L1580.3,789.2 L1582.0,789.6 L1583.8,790.0 L1585.5,790.3 L1587.3,790.7 L1589.0,791.1 L1590.7,791.5 L1592.5,791.9 L1594.2,792.3 L1596.0,792.7 L1597.7,793.1 L1599.5,793.5 L1601.2,793.9 L1603.0,794.3 L1604.7,794.7 L1606.5,795.1 L1608.2,795.6 L1610.0,796.0 L1611.7,796.4 L1613.5,796.9 L1615.2,797.3 L1616.9,797.7 L1618.7,798.2 L1620.4,798.6 L1622.2,799.1 L1623.9,799.5 L1625.7,800.0 L1627.4,800.4 L1629.2,800.9 L1630.9,801.4 L1632.7,801.9 L1634.4,802.3 L1636.2,802.8 L1637.9,803.3 L1639.7,803.8 L1641.4,804.3 L1643.1,804.7 L1644.9,805.2 L1646.6,805.7 L1648.4,806.2 L1650.1,806.7 L1651.9,807.3 L1653.6,807.8 L1655.4,808.3 L1657.1,808.8 L1658.9,809.3 L1660.6,809.8 L1662.4,810.4 L1664.1,810.9 L1665.9,811.4 L1667.6,812.0 L1669.3,812.5 L1671.1,813.0 L1672.8,813.6 L1674.6,814.1 L1676.3,814.7 L1678.1,815.2 L1679.8,815.7 L1681.6,816.3 L1683.3,816.9 L1685.1,817.4 L1686.8,818.0 L1688.6,818.5 L1690.3,819.1 L1692.0,819.6 L1693.8,820.2 L1695.5,820.8 L1697.3,821.3 L1699.0,821.9 L1700.8,822.5 L1702.5,823.0 L1704.3,823.6 L1706.0,824.2 L1707.8,824.7 L1709.5,825.3 L1711.3,825.9 L1713.0,826.5 L1714.8,827.0 L1716.5,827.6" stroke="#ff8000" stroke-dasharray="28 6 14 6"/>
<path d="M251.5,51.5 L254.9,71.9 L258.2,92.2 L261.6,112.6 L265.0,133.0 L268.3,153.3 L271.7,173.7 L275.1,194.1 L278.4,214.5 L281.8,234.8 L285.2,255.2 L288.5,275.6 L291.9,296.0 L295.3,316.4 L298.6,336.8 L302.0,357.2 L305.4,377.6 L308.8,398.1 L312.1,418.5 L315.5,439.0 L318.9,459.5 L322.2,480.0 L325.6,500.5 L329.0,520.9 L332.3,541.4 L335.7,561.8 L339.1,582.2 L342.4,602.5 L345.8,622.8 L349.2,643.1 L349.9,647.5 L350.6,651.9 L351.4,656.2 L352.1,660.6 L352.8,665.0 L353.6,669.3 L354.3,673.6 L355.1,677.9 L355.8,682.2 L356.5,686.5 L357.3,690.8 L358.0,695.1 L358.7,699.4 L359.5,703.6 L360.2,707.9 L360.9,712.1 L361.7,716.4 L362.4,720.6 L363.2,724.8 L363.9,729.1 L364.6,733.3 L365.4,737.4 L366.1,741.4 L366.8,745.4 L367.6,749.4 L368.3,753.2 L369.0,757.0 L369.8,760.8 L370.5,764.4 L371.3,768.0 L372.0,771.6 L372.7,775.0 L373.5,778.4 L374.2,781.6 L374.9,784.9 L375.7,788.0 L376.4,791.1 L377.1,794.2 L377.9,797.2 L378.6,800.1 L379.4,803.1 L380.1,806.1 L380.8,809.0 L381.6,811.9 L382.3,814.9 L383.0,817.8 L383.8,820.6 L384.5,823.5 L385.2,826.3 L386.0,829.1 L386.7,831.9 L387.4,834.6 L388.2,837.3 L388.9,840.0 L389.7,842.6 L390.4,845.1 L391.1,847.7 L391.9,850.1 L392.6,852.6 L393.3,854.9 L394.1,857.3 L394.8,859.5 L395.5,861.7 L396.3,863.9 L397.0,866.0 L397.8,868.0 L398.5,870.0 L399.2,871.9 L400.0,873.8 L400.7,875.7 L401.4,877.5 L402.2,879.3 L402.9,881.0 L403.6,882.7 L404.4,884.4 L405.1,886.1 L405.9,887.7 L406.6,889.3 L407.3,890.9 L408.1,892.4 L408.8,894.0 L409.5,895.6 L410.3,897.1 L411.0,898.6 L411.7,900.0 L412.5,901.5 L413.2,902.9 L414.0,904.2 L414.7,905.5 L415.4,906.8 L416.2,908.0 L416.9,909.1 L417.6,910.2 L418.4,911.3 L419.1,912.2 L419.8,913.2 L420.6,914.1 L421.3,915.0 L422.0,915.8 L422.8,916.6 L423.5,917.4 L424.3,918.1 L425.0,918.8 L425.7,919.5 L426.5,920.2 L427.2,920.8 L427.9,921.4 L428.7,922.0 L429.4,922.5 L430.1,923.1 L430.9,923.6 L431.6,924.1 L432.4,924.5 L433.1,925.0 L433.8,925.4 L434.6,925.9 L435.3,926.3 L436.0,926.7 L436.8,927.0 L437.5,927.4 L438.2,927.8 L439.0,928.1 L439.7,928.4 L440.5,928.7 L441.2,929.0 L441.9,929.3 L442.7,929.6 L443.4,929.9 L444.1,930.1 L444.9,930.3 L445.6,930.6 L446.3,930.8 L447.1,931.0 L447.8,931.2 L448.6,931.4 L449.3,931.6 L450.0,931.8 L450.8,932.0 L451.5,932.1 L452.2,932.3 L453.0,932.5 L453.7,932.6 L454.4,932.8 L455.2,932.9 L455.9,933.1 L456.6,933.2 L457.4,933.4 L458.1,933.5 L458.9,933.7 L459.6,933.8 L460.3,934.0 L461.1,934.1 L461.8,934.3 L462.5,934.4 L463.3,934.6 L464.0,934.7 L464.7,934.9 L465.5,935.0 L466.2,935.2 L467.0,935.3 L467.7,935.5 L468.4,935.6 L469.2,935.8 L469.9,935.9 L470.6,936.1 L471.4,936.2 L472.1,936.4 L472.8,936.5 L473.6,936.7 L474.3,936.8 L475.1,937.0 L475.8,937.2 L476.5,937.3 L477.3,937.5 L478.0,937.6 L478.7,937.8 L479.5,937.9 L480.2,938.1 L480.9,938.3 L481.7,938.4 L482.4,938.6 L483.2,938.7 L483.9,938.9 L484.6,939.0 L485.4,939.2 L486.1,939.3 L486.8,939.5 L487.6,939.7 L488.3,939.8 L489.0,940.0 L489.8,940.1 L490.5,940.3 L491.2,940.4 L492.0,940.6 L492.7,940.7 L493.5,940.9 L494.2,941.1 L494.9,941.2 L495.7,941.4 L497.4,941.7 L499.2,942.1 L500.9,942.5 L502.7,942.8 L504.4,943.2 L506.1,943.6 L507.9,944.0 L509.6,944.3 L511.4,944.7 L513.1,945.1 L514.9,945.5 L516.6,945.9 L518.4,946.3 L520.1,946.6 L521.9,947.0 L523.6,947.4 L525.4,947.8 L527.1,948.2 L528.9,948.6 L530.6,949.0 L532.3,949.4 L534.1,949.7 L535.8,950.1 L537.6,950.5 L539.3,950.9 L541.1,951.3 L542.8,951.6 L544.6,952.0 L546.3,952.4 L548.1,952.8 L549.8,953.1 L551.6,953.5 L553.3,953.9 L555.0,954.2 L556.8,954.6 L558.5,954.9 L560.3,955.3 L562.0,955.7 L563.8,956.0 L565.5,956.4 L567.3,956.7 L569.0,957.1 L570.8,957.4 L572.5,957.8 L574.3,958.1 L576.0,958.4 L577.8,958.8 L579.5,959.1 L581.2,959.4 L583.0,959.8 L584.7,960.1 L586.5,960.4 L588.2,960.7 L590.0,961.1 L591.7,961.4 L593.5,961.7 L595.2,962.0 L597.0,962.3 L598.7,962.6 L600.5,962.9 L602.2,963.2 L604.0,963.5 L605.7,963.8 L607.4,964.1 L609.2,964.3 L610.9,964.6 L612.7,964.9 L614.4,965.2 L616.2,965.4 L617.9,965.7 L619.7,966.0 L621.4,966.2 L623.2,966.5 L624.9,966.7 L626.7,967.0 L628.4,967.2 L630.2,967.4 L631.9,967.7 L633.6,967.9 L635.4,968.1 L637.1,968.4 L638.9,968.6 L640.6,968.8 L642.4,969.0 L644.1,969.2 L645.9,969.4 L647.6,969.6 L649.4,969.8 L651.1,970.0 L652.9,970.2 L654.6,970.4 L656.3,970.5 L658.1,970.7 L659.8,970.9 L661.6,971.0 L663.3,971.2 L665.1,971.3 L666.8,971.5 L668.6,971.6 L670.3,971.8 L672.1,971.9 L673.8,972.0 L675.6,972.2 L677.3,972.3 L679.1,972.4 L680.8,972.5 L682.5,972.6 L684.3,972.7 L686.0,972.8 L687.8,972.9 L689.5,973.0 L691.3,973.1 L693.0,973.1 L694.8,973.2 L696.5,973.3 L698.3,973.3 L700.0,973.4 L701.8,973.4 L703.5,973.5 L705.3,973.5 L707.0,973.6 L708.7,973.6 L710.5,973.6 L712.2,973.7 L714.0,973.7 L715.7,973.7 L717.5,973.7 L719.2,973.7 L721.0,973.7 L722.7,973.7 L724.5,973.7 L726.2,973.7 L728.0,973.6 L729.7,973.6 L731.4,973.6 L733.2,973.6 L734.9,973.5 L736.7,973.5 L738.4,973.4 L740.2,973.4 L741.9,973.3 L743.7,973.2 L745.4,973.2 L747.2,973.1 L748.9,973.0 L750.7,972.9 L752.4,972.9 L754.2,972.8 L755.9,972.7 L757.6,972.6 L759.4,972.5 L761.1,972.3 L762.9,972.2 L764.6,972.1 L766.4,972.0 L768.1,971.9 L769.9,971.7 L771.6,971.6 L773.4,971.4 L775.1,971.3 L776.9,971.1 L778.6,971.0 L780.4,970.8 L782.1,970.7 L783.8,970.5 L785.6,970.3 L787.3,970.1 L789.1,969.9 L790.8,969.7 L792.6,969.6 L794.3,969.4 L796.1,969.2 L797.8,968.9 L799.6,968.7 L801.3,968.5 L803.1,968.3 L804.8,968.1 L806.6,967.8 L808.3,967.6 L810.0,967.4 L811.8,967.1 L813.5,966.9 L815.3,966.6 L817.0,966.4 L818.8,966.1 L820.5,965.8 L822.3,965.6 L824.0,965.3 L825.8,965.0 L827.5,964.7 L829.3,964.4 L831.0,964.2 L832.7,963.9 L834.5,963.6 L836.2,963.3 L838.0,963.0 L839.7,962.7 L841.5,962.4 L843.2,962.0 L845.0,961.7 L846.7,961.4 L848.5,961.1 L850.2,960.8 L852.0,960.4 L853.7,960.1 L855.5,959.8 L857.2,959.4 L858.9,959.1 L860.7,958.8 L862.4,958.4 L864.2,958.1 L865.9,957.8 L867.7,957.4 L869.4,957.1 L871.2,956.7 L872.9,956.4 L874.7,956.0 L876.4,955.7 L878.2,955.3 L879.9,954.9 L881.7,954.6 L883.4,954.2 L885.1,953.9 L886.9,953.5 L888.6,953.2 L890.4,952.8 L892.1,952.4 L893.9,952.1 L895.6,951.7 L897.4,951.4 L899.1,951.0 L900.9,950.6 L902.6,950.3 L904.4,949.9 L906.1,949.5 L907.9,949.2 L909.6,948.8 L911.3,948.4 L913.1,948.1 L914.8,947.7 L916.6,947.3 L918.3,947.0 L920.1,946.6 L921.8,946.3 L923.6,945.9 L925.3,945.5 L927.1,945.2 L928.8,944.8 L930.6,944.4 L932.3,944.1 L934.0,943.7 L935.8,943.3 L937.5,943.0 L939.3,942.6 L941.0,942.3 L942.8,941.9 L944.5,941.5 L946.3,941.2 L948.0,940.8 L949.8,940.5 L951.5,940.1 L953.3,939.8 L955.0,939.4 L956.8,939.1 L958.5,938.7 L960.2,938.4 L962.0,938.0 L963.7,937.7 L965.5,937.3 L967.2,937.0 L969.0,936.6 L970.7,936.3 L972.5,936.0 L974.2,935.6 L976.0,935.3 L977.7,934.9 L979.5,934.6 L981.2,934.3 L983.0,933.9 L984.7,933.6 L986.4,933.3 L988.2,932.9 L989.9,932.6 L991.7,932.3 L993.4,931.9 L995.2,931.6 L996.9,931.3 L998.7,930.9 L1000.4,930.6 L1002.2,930.3 L1003.9,930.0 L1005.7,929.6 L1007.4,929.3 L1009.2,929.0 L1010.9,928.7 L1012.6,928.3 L1014.4,928.0 L1016.1,927.7 L1017.9,927.4 L1019.6,927.1 L1021.4,926.7 L1023.1,926.4 L1024.9,926.1 L1026.6,925.8 L1028.4,925.5 L1030.1,925.1 L1031.9,924.8 L1033.6,924.5 L1035.3,924.2 L1037.1,923.9 L1038.8,923.6 L1040.6,923.3 L1042.3,922.9 L1044.1,922.6 L1045.8,922.3 L1047.6,922.0 L1049.3,921.7 L1051.1,921.4 L1052.8,921.1 L1054.6,920.8 L1056.3,920.5 L1058.1,920.1 L1059.8,919.8 L1061.5,919.5 L1063.3,919.2 L1065.0,918.9 L1066.8,918.6 L1068.5,918.3 L1070.3,918.0 L1072.0,917.7 L1073.8,917.4 L1075.5,917.1 L1077.3,916.8 L1079.0,916.5 L1080.8,916.2 L1082.5,915.9 L1084.3,915.6 L1086.0,915.3 L1087.7,915.0 L1089.5,914.7 L1091.2,914.4 L1093.0,914.1 L1094.7,913.8 L1096.5,913.5 L1098.2,913.3 L1100.0,913.0 L1101.7,912.7 L1103.5,912.4 L1105.2,912.1 L1107.0,911.9 L1108.7,911.6 L1110.4,911.3 L1112.2,911.0 L1113.9,910.8 L1115.7,910.5 L1117.4,910.2 L1119.2,910.0 L1120.9,909.7 L1122.7,909.4 L1124.4,909.2 L1126.2,908.9 L1127.9,908.7 L1129.7,908.4 L1131.4,908.2 L1133.2,907.9 L1134.9,907.7 L1136.6,907.4 L1138.4,907.2 L1140.1,906.9 L1141.9,906.7 L1143.6,906.4 L1145.4,906.2 L1147.1,906.0 L1148.9,905.7 L1150.6,905.5 L1152.4,905.3 L1154.1,905.0 L1155.9,904.8 L1157.6,904.6 L1159.4,904.3 L1161.1,904.1 L1162.8,903.9 L1164.6,903.7 L1166.3,903.4 L1168.1,903.2 L1169.8,903.0 L1171.6,902.8 L1173.3,902.6 L1175.1,902.4 L1176.8,902.2 L1178.6,901.9 L1180.3,901.7 L1182.1,901.5 L1183.8,901.3 L1185.6,901.1 L1187.3,900.9 L1189.0,900.7 L1190.8,900.5 L1192.5,900.3 L1194.3,900.1 L1196.0,899.9 L1197.8,899.7 L1199.5,899.5 L1201.3,899.4 L1203.0,899.2 L1204.8,899.0 L1206.5,898.8 L1208.3,898.6 L1210.0,898.4 L1211.7,898.2 L1213.5,898.1 L1215.2,897.9 L1217.0,897.7 L1218.7,897.5 L1220.5,897.3 L1222.2,897.2 L1224.0,897.0 L1225.7,896.8 L1227.5,896.7 L1229.2,896.5 L1231.0,896.3 L1232.7,896.2 L1234.5,896.0 L1236.2,895.8 L1237.9,895.7 L1239.7,895.5 L1241.4,895.3 L1243.2,895.2 L1244.9,895.0 L1246.7,894.8 L1248.4,894.7 L1250.2,894.5 L1251.9,894.4 L1253.7,894.2 L1255.4,894.0 L1257.2,893.9 L1258.9,893.7 L1260.7,893.6 L1262.4,893.4 L1264.1,893.3 L1265.9,893.1 L1267.6,893.0 L1269.4,892.9 L1271.1,892.7 L1272.9,892.6 L1274.6,892.4 L1276.4,892.3 L1278.1,892.2 L1279.9,892.0 L1281.6,891.9 L1283.4,891.8 L1285.1,891.6 L1286.9,891.5 L1288.6,891.4 L1290.3,891.2 L1292.1,891.1 L1293.8,891.0 L1295.6,890.9 L1297.3,890.7 L1299.1,890.6 L1300.8,890.5 L1302.6,890.4 L1304.3,890.3 L1306.1,890.1 L1307.8,890.0 L1309.6,889.9 L1311.3,889.8 L1313.0,889.7 L1314.8,889.6 L1316.5,889.5 L1318.3,889.4 L1320.0,889.3 L1321.8,889.1 L1323.5,889.0 L1325.3,888.9 L1327.0,888.8 L1328.8,888.7 L1330.5,888.6 L1332.3,888.5 L1334.0,888.4 L1335.8,888.3 L1337.5,888.2 L1339.2,888.1 L1341.0,888.0 L1342.7,887.9 L1344.5,887.9 L1346.2,887.8 L1348.0,887.7 L1349.7,887.6 L1351.5,887.5 L1353.2,887.4 L1355.0,887.3 L1356.7,887.2 L1358.5,887.1 L1360.2,887.0 L1362.0,887.0 L1363.7,886.9 L1365.4,886.8 L1367.2,886.7 L1368.9,886.6 L1370.7,886.5 L1372.4,886.5 L1374.2,886.4 L1375.9,886.3 L1377.7,886.2 L1379.4,886.1 L1381.2,886.1 L1382.9,886.0 L1384.7,885.9 L1386.4,885.8 L1388.1,885.8 L1389.9,885.7 L1391.6,885.6 L1393.4,885.5 L1395.1,885.5 L1396.9,885.4 L1398.6,885.3 L1400.4,885.2 L1402.1,885.2 L1403.9,885.1 L1405.6,885.0 L1407.4,885.0 L1409.1,884.9 L1410.9,884.8 L1412.6,884.8 L1414.3,884.7 L1416.1,884.6 L1417.8,884.6 L1419.6,884.5 L1421.3,884.5 L1423.1,884.4 L1424.8,884.3 L1426.6,884.3 L1428.3,884.2 L1430.1,884.2 L1431.8,884.1 L1433.6,884.0 L1435.3,884.0 L1437.1,883.9 L1438.8,883.9 L1440.5,883.8 L1442.3,883.7 L1444.0,883.7 L1445.8,883.6 L1447.5,883.6 L1449.3,883.5 L1451.0,883.5 L1452.8,883.4 L1454.5,883.4 L1456.3,883.3 L1458.0,883.3 L1459.8,883.2 L1461.5,883.2 L1463.3,883.1 L1465.0,883.1 L1466.7,883.0 L1468.5,883.0 L1470.2,882.9 L1472.0,882.9 L1473.7,882.8 L1475.5,882.8 L1477.2,882.7 L1479.0,882.7 L1480.7,882.6 L1482.5,882.6 L1484.2,882.6 L1486.0,882.5 L1487.7,882.5 L1489.4,882.4 L1491.2,882.4 L1492.9,882.4 L1494.7,882.3 L1496.4,882.3 L1498.2,882.2 L1499.9,882.2 L1501.7,882.2 L1503.4,882.1 L1505.2,882.1 L1506.9,882.1 L1508.7,882.0 L1510.4,882.0 L1512.2,882.0 L1513.9,881.9 L1515.6,881.9 L1517.4,881.9 L1519.1,881.9 L1520.9,881.8 L1522.6,881.8 L1524.4,881.8 L1526.1,881.8 L1527.9,881.7 L1529.6,881.7 L1531.4,881.7 L1533.1,881.7 L1534.9,881.7 L1536.6,881.6 L1538.4,881.6 L1540.1,881.6 L1541.8,881.6 L1543.6,881.6 L1545.3,881.6 L1547.1,881.6 L1548.8,881.5 L1550.6,881.5 L1552.3,881.5 L1554.1,881.5 L1555.8,881.5 L1557.6,881.5 L1559.3,881.5 L1561.1,881.5 L1562.8,881.5 L1564.6,881.5 L1566.3,881.5 L1568.0,881.5 L1569.8,881.5 L1571.5,881.5 L1573.3,881.5 L1575.0,881.5 L1576.8,881.5 L1578.5,881.5 L1580.3,881.5 L1582.0,881.6 L1583.8,881.6 L1585.5,881.6 L1587.3,881.6 L1589.0,881.6 L1590.7,881.6 L1592.5,881.6 L1594.2,881.7 L1596.0,881.7 L1597.7,881.7 L1599.5,881.7 L1601.2,881.8 L1603.0,881.8 L1604.7,881.8 L1606.5,881.8 L1608.2,881.9 L1610.0,881.9 L1611.7,881.9 L1613.5,882.0 L1615.2,882.0 L1616.9,882.0 L1618.7,882.1 L1620.4,882.1 L1622.2,882.2 L1623.9,882.2 L1625.7,882.3 L1627.4,882.3 L1629.2,882.4 L1630.9,882.4 L1632.7,882.5 L1634.4,882.5 L1636.2,882.6 L1637.9,882.6 L1639.7,882.7 L1641.4,882.8 L1643.1,882.8 L1644.9,882.9 L1646.6,883.0 L1648.4,883.0 L1650.1,883.1 L1651.9,883.2 L1653.6,883.3 L1655.4,883.3 L1657.1,883.4 L1658.9,883.5 L1660.6,883.6 L1662.4,883.7 L1664.1,883.8 L1665.9,883.9 L1667.6,883.9 L1669.3,884.0 L1671.1,884.1 L1672.8,884.2 L1674.6,884.3 L1676.3,884.4 L1678.1,884.5 L1679.8,884.6 L1681.6,884.7 L1683.3,884.8 L1685.1,884.9 L1686.8,885.0 L1688.6,885.1 L1690.3,885.3 L1692.0,885.4 L1693.8,885.5 L1695.5,885.6 L1697.3,885.7 L1699.0,885.8 L1700.8,885.9 L1702.5,886.0 L1704.3,886.2 L1706.0,886.3 L1707.8,886.4 L1709.5,886.5 L1711.3,886.6 L1713.0,886.7 L1714.8,886.8 L1716.5,887.0" stroke="#7e2f8e" stroke-dasharray="28 6 14 6"/>
</g>
<g>
<text x="251.5" y="1269.6" font-size="56.2" stroke-width="0.5" text-anchor="middle">0</text>
<text x="495.5" y="1269.6" font-size="56.2" stroke-width="0.5" text-anchor="middle">1</text>
<text x="739.5" y="1269.6" font-size="56.2" stroke-width="0.5" text-anchor="middle">2</text>
<text x="983.5" y="1269.6" font-size="56.2" stroke-width="0.5" text-anchor="middle">3</text>
<text x="1228.0" y="1269.6" font-size="56.2" stroke-width="0.5" text-anchor="middle">4</text>
<text x="1472.5" y="1269.6" font-size="56.2" stroke-width="0.5" text-anchor="middle">5</text>
<text x="1716.5" y="1269.6" font-size="56.2" stroke-width="0.5" text-anchor="middle">6</text>
<text font-size="100" transform="translate(161.67,65.31) scale(0.5618,0.5626)">0.3</text>
<text font-size="100" transform="translate(134.39,209.31) scale(0.5541,0.5626)">0.25</text>
<text font-size="100" transform="translate(161.65,353.31) scale(0.5661,0.5626)">0.2</text>
<text font-size="100" transform="translate(134.39,497.31) scale(0.5541,0.5626)">0.15</text>
<text font-size="100" transform="translate(161.48,641.31) scale(0.5582,0.5626)">0.1</text>
<text font-size="100" transform="translate(134.60,785.31) scale(0.5535,0.5626)">0.05</text>
<text font-size="100" transform="translate(203.10,929.53) scale(0.5778,0.5659)">0</text>
<text font-size="100" transform="translate(93.52,1078.42) scale(0.7302,0.6000)">−</text><text font-size="100" transform="translate(134.60,1073.31) scale(0.5535,0.5626)">0.05</text>
<text font-size="100" transform="translate(120.63,1222.42) scale(0.7281,0.6000)">−</text><text font-size="100" transform="translate(161.68,1217.31) scale(0.5573,0.5626)">0.1</text>
</g>
<text font-size="100" transform="translate(888.51,1350.30) scale(0.6041,0.6015)">Time(s)</text>
<g transform="rotate(-90)">
<text class="it" font-size="100" transform="translate(-728.65,57.44) scale(0.5842,0.5634)">e</text><text font-size="100" transform="translate(-701.90,48.13) scale(0.3951,0.4905)">*</text><text font-size="100" transform="translate(-702.07,72.20) scale(0.4108,0.4303)">1</text><text font-size="100" transform="translate(-679.27,72.19) scale(0.3867,0.4942)">,</text><text font-size="100" transform="translate(-671.02,72.90) scale(0.4644,0.4443)">7</text><text font-size="100" transform="translate(-643.03,57.48) scale(0.5333,0.7549)">,</text><text class="it" font-size="100" transform="translate(-608.78,57.63) scale(0.5918,0.5696)">e</text><text font-size="100" transform="translate(-582.82,66.30) scale(0.4278,0.4303)">1</text><text font-size="100" transform="translate(-559.22,66.31) scale(0.3733,0.5058)">,</text><text font-size="100" transform="translate(-550.92,67.20) scale(0.4644,0.4473)">7</text></g>
<g class="lg"><rect x="1014.5" y="87.5" width="666.0" height="432.0" fill="#fff" stroke="#262626" stroke-width="3"/>
<path d="M1027,123.9 H1163" stroke="#000000" stroke-width="8" shape-rendering="crispEdges" fill="none"/>
<text class="it" stroke-width="0.2" font-size="100" transform="translate(1173.01,134.74) scale(0.5306,0.4615)">e</text><text font-size="100" transform="translate(1195.15,128.94) scale(0.3654,0.4251)">*</text><text font-size="100" transform="translate(1194.87,147.00) scale(0.3484,0.3364)">1</text><text font-size="100" transform="translate(1214.21,146.77) scale(0.3133,0.4047)">,</text><text font-size="100" transform="translate(1220.66,147.80) scale(0.3907,0.3511)">7</text>
<path d="M1027,183.8 H1163" stroke="#ff0000" stroke-width="8" shape-rendering="crispEdges" fill="none"/>
<text class="it" font-size="100" transform="translate(1175.77,195.32) scale(0.5600,0.4977)">M</text><text font-size="100" transform="translate(1225.46,195.32) scale(0.4873,0.5045)">1</text><text font-size="100" transform="translate(1251.73,196.78) scale(0.5039,0.5557)">(</text><text class="it" stroke-width="0.2" font-size="100" transform="translate(1268.23,196.27) scale(0.5643,0.4766)">η</text><text font-size="100" transform="translate(1306.62,202.41) scale(0.7302,0.5600)">=</text><text font-size="100" transform="translate(1359.19,195.51) scale(0.4949,0.5096)">10</text><text font-size="100" transform="translate(1409.83,196.37) scale(0.4933,0.6070)">,</text><text class="it" font-size="100" transform="translate(1431.83,195.32) scale(0.6100,0.4977)">KT</text><text font-size="100" transform="translate(1521.29,202.41) scale(0.7366,0.5600)">=</text><text font-size="100" transform="translate(1573.57,197.32) scale(0.5283,0.5389)">7</text><text font-size="100" transform="translate(1599.04,196.78) scale(0.5194,0.5557)">)</text>
<path d="M1027,243.7 H1163" stroke="#00ffff" stroke-width="8" shape-rendering="crispEdges" fill="none" stroke-dasharray="28 6 14 6"/>
<text class="it" font-size="100" transform="translate(1175.77,255.24) scale(0.5600,0.4977)">M</text><text font-size="100" transform="translate(1224.98,255.24) scale(0.5174,0.5030)">2</text><text font-size="100" transform="translate(1251.73,256.70) scale(0.5039,0.5557)">(</text><text class="it" stroke-width="0.2" font-size="100" transform="translate(1268.23,256.19) scale(0.5643,0.4766)">η</text><text font-size="100" transform="translate(1306.62,262.33) scale(0.7302,0.5600)">=</text><text font-size="100" transform="translate(1359.19,255.43) scale(0.4949,0.5096)">10</text><text font-size="100" transform="translate(1409.83,256.29) scale(0.4933,0.6070)">,</text><text class="it" font-size="100" transform="translate(1431.83,255.24) scale(0.6100,0.4977)">KT</text><text font-size="100" transform="translate(1521.29,262.33) scale(0.7366,0.5600)">=</text><text font-size="100" transform="translate(1573.57,257.24) scale(0.5283,0.5389)">7</text><text font-size="100" transform="translate(1599.04,256.70) scale(0.5194,0.5557)">)</text>
<path d="M1027,303.7 H1163" stroke="#0080ff" stroke-width="8" shape-rendering="crispEdges" fill="none" stroke-dasharray="7.3 6.2"/>
<text class="it" font-size="100" transform="translate(1175.77,315.16) scale(0.5600,0.4977)">M</text><text font-size="100" transform="translate(1224.98,315.16) scale(0.5174,0.5030)">2</text><text font-size="100" transform="translate(1251.73,316.62) scale(0.5039,0.5557)">(</text><text class="it" stroke-width="0.2" font-size="100" transform="translate(1268.23,316.11) scale(0.5643,0.4766)">η</text><text font-size="100" transform="translate(1306.62,322.25) scale(0.7302,0.5600)">=</text><text font-size="100" transform="translate(1359.30,315.35) scale(0.4828,0.5134)">15</text><text font-size="100" transform="translate(1409.83,316.21) scale(0.4933,0.6070)">,</text><text class="it" font-size="100" transform="translate(1431.83,315.16) scale(0.6100,0.4977)">KT</text><text font-size="100" transform="translate(1521.29,322.25) scale(0.7366,0.5600)">=</text><text font-size="100" transform="translate(1573.57,317.16) scale(0.5283,0.5389)">7</text><text font-size="100" transform="translate(1599.04,316.62) scale(0.5194,0.5557)">)</text>
<path d="M1027,363.6 H1163" stroke="#0000ff" stroke-width="8" shape-rendering="crispEdges" fill="none" stroke-dasharray="28 26"/>
<text class="it" font-size="100" transform="translate(1175.77,375.08) scale(0.5600,0.4977)">M</text><text font-size="100" transform="translate(1224.98,375.08) scale(0.5174,0.5030)">2</text><text font-size="100" transform="translate(1251.73,376.54) scale(0.5039,0.5557)">(</text><text class="it" stroke-width="0.2" font-size="100" transform="translate(1268.23,376.03) scale(0.5643,0.4766)">η</text><text font-size="100" transform="translate(1306.62,382.17) scale(0.7302,0.5600)">=</text><text font-size="100" transform="translate(1359.17,375.27) scale(0.4951,0.5096)">20</text><text font-size="100" transform="translate(1409.83,376.13) scale(0.4933,0.6070)">,</text><text class="it" font-size="100" transform="translate(1431.83,375.08) scale(0.6100,0.4977)">KT</text><text font-size="100" transform="translate(1521.29,382.17) scale(0.7366,0.5600)">=</text><text font-size="100" transform="translate(1573.57,377.08) scale(0.5283,0.5389)">7</text><text font-size="100" transform="translate(1599.04,376.54) scale(0.5194,0.5557)">)</text>
<path d="M1027,423.5 H1163" stroke="#ff8000" stroke-width="8" shape-rendering="crispEdges" fill="none" stroke-dasharray="28 6 14 6"/>
<text class="it" font-size="100" transform="translate(1175.77,435.00) scale(0.5600,0.4977)">M</text><text font-size="100" transform="translate(1224.84,435.19) scale(0.5024,0.5060)">3</text><text font-size="100" transform="translate(1251.73,436.46) scale(0.5039,0.5557)">(</text><text class="it" stroke-width="0.2" font-size="100" transform="translate(1268.23,435.95) scale(0.5643,0.4766)">η</text><text font-size="100" transform="translate(1306.62,442.09) scale(0.7302,0.5600)">=</text><text font-size="100" transform="translate(1359.17,435.19) scale(0.4951,0.5096)">20</text><text font-size="100" transform="translate(1409.83,436.05) scale(0.4933,0.6070)">,</text><text class="it" font-size="100" transform="translate(1431.83,435.00) scale(0.6100,0.4977)">KT</text><text font-size="100" transform="translate(1521.29,442.09) scale(0.7366,0.5600)">=</text><text font-size="100" transform="translate(1573.57,437.00) scale(0.5283,0.5389)">7</text><text font-size="100" transform="translate(1599.04,436.46) scale(0.5194,0.5557)">)</text>
<path d="M1027,483.4 H1163" stroke="#7e2f8e" stroke-width="8" shape-rendering="crispEdges" fill="none" stroke-dasharray="28 6 14 6"/>
<text class="it" font-size="100" transform="translate(1175.77,494.92) scale(0.5600,0.4977)">M</text><text font-size="100" transform="translate(1224.84,495.11) scale(0.5024,0.5060)">3</text><text font-size="100" transform="translate(1251.73,496.38) scale(0.5039,0.5557)">(</text><text class="it" stroke-width="0.2" font-size="100" transform="translate(1268.23,495.87) scale(0.5643,0.4766)">η</text><text font-size="100" transform="translate(1306.62,502.01) scale(0.7302,0.5600)">=</text><text font-size="100" transform="translate(1359.17,495.11) scale(0.4951,0.5096)">20</text><text font-size="100" transform="translate(1409.83,495.97) scale(0.4933,0.6070)">,</text><text class="it" font-size="100" transform="translate(1431.83,494.92) scale(0.6100,0.4977)">KT</text><text font-size="100" transform="translate(1521.29,502.01) scale(0.7366,0.5600)">=</text><text font-size="100" transform="translate(1573.49,495.11) scale(0.4953,0.5096)">100</text><text font-size="100" transform="translate(1647.94,496.38) scale(0.5194,0.5557)">)</text>
</g>
</svg></body></html>
